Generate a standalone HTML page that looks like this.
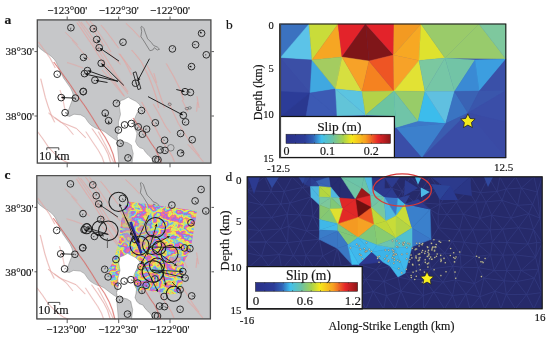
<!DOCTYPE html>
<html><head><meta charset="utf-8"><title>figure</title>
<style>html,body{margin:0;padding:0;background:#fff;overflow:hidden}svg{display:block}
text{font-family:"Liberation Serif","Times New Roman",serif;fill:#161616;stroke:#161616;stroke-width:0.18px}</style></head><body>
<svg width="550" height="337" viewBox="0 0 550 337">
<defs>
<linearGradient id="jet" x1="0" x2="1" y1="0" y2="0"><stop offset="0" stop-color="#2a3088"/><stop offset="0.18" stop-color="#2c3c98"/><stop offset="0.26" stop-color="#3062b6"/><stop offset="0.34" stop-color="#40c0ee"/><stop offset="0.45" stop-color="#6cc2a4"/><stop offset="0.55" stop-color="#a8d24c"/><stop offset="0.63" stop-color="#f6e81a"/><stop offset="0.76" stop-color="#f7a021"/><stop offset="0.88" stop-color="#e5262a"/><stop offset="1" stop-color="#8c1618"/></linearGradient>
<clipPath id="clipA"><rect x="37.5" y="20" width="173.5" height="143.2"/></clipPath>
<clipPath id="clipD"><rect x="247.2" y="176.8" width="295" height="132"/></clipPath>
<filter id="ifg" x="0" y="0" width="1" height="1" color-interpolation-filters="sRGB">
<feTurbulence type="fractalNoise" baseFrequency="0.075 0.09" numOctaves="4" seed="8" result="n"/>
<feColorMatrix in="n" type="matrix" values="1 0 0 0 0  1 0 0 0 0  1 0 0 0 0  0 0 0 0 1"/>
<feComponentTransfer>
<feFuncR type="table" tableValues="1.00 0.97 0.93 0.55 0.35 0.74 1.00 0.97 0.93 0.55 0.35 0.74 1.00 0.97 0.93 0.55 0.35 0.74 1.00 0.97 0.93 0.55 0.35 0.74 1.00"/>
<feFuncG type="table" tableValues="0.93 0.60 0.30 0.42 0.78 0.92 0.93 0.60 0.30 0.42 0.78 0.92 0.93 0.60 0.30 0.42 0.78 0.92 0.93 0.60 0.30 0.42 0.78 0.92 0.93"/>
<feFuncB type="table" tableValues="0.22 0.28 0.72 0.90 0.96 0.42 0.22 0.28 0.72 0.90 0.96 0.42 0.22 0.28 0.72 0.90 0.96 0.42 0.22 0.28 0.72 0.90 0.96 0.42 0.22"/>
</feComponentTransfer>
</filter>
<clipPath id="clipIfg"><polygon points="128,201.5 197,210.8 190.5,250 184,262 182.5,283 181,289.5 176.8,293.8 170,294.5 163,292.5 152,291.2 144,289.5 138,291 125,290 111.4,285 108,270 113,262 116.5,250 119.3,240 121,222 124,208"/></clipPath>
</defs>

<g clip-path="url(#clipA)"><rect x="37.5" y="20.0" width="173.5" height="143.2" fill="#c6c7c9"/>
<polygon points="37.5,45.2 37.6,45.2 39.6,48.2 42.6,50.5 45.0,52.3 48.1,54.0 51.3,56.4 54.0,59.0 55.8,61.5 57.0,64.0 59.3,68.8 61.1,73.0 63.5,78.0 65.3,80.5 67.9,84.3 70.5,88.0 72.4,92.0 73.5,96.0 73.2,98.5 72.0,100.8 69.3,108.0 66.5,115.6 69.7,116.4 74.0,114.2 80.8,114.9 84.9,117.3 88.5,122.6 90.8,125.0 94.4,127.4 98.0,129.1 100.9,129.7 105.1,132.1 109.8,135.7 114.6,139.2 118.1,141.3 117.1,142.0 117.7,148.8 118.3,155.9 118.9,163.2 37.5,163.2" fill="#fff" stroke="#888" stroke-width="0.5"/>
<polygon points="120.4,100.7 124.0,99.5 128.2,97.1 131.1,98.9 135.9,101.3 139.4,104.3 141.2,107.8 137.6,112.0 135.5,116.5 134.0,120.5 133.5,124.5 135.0,129.0 137.0,133.0 136.5,137.0 135.5,141.6 137.3,145.2 139.7,147.6 143.3,148.8 145.6,152.3 148.0,154.7 150.4,157.1 152.2,159.4 152.8,163.2 132.0,163.2 132.6,158.3 133.2,153.5 132.0,148.8 131.4,145.2 127.8,142.8 123.1,141.6 118.3,141.0 117.5,140.0 117.5,138.5 117.0,136.5 118.2,133.0 118.8,129.5 118.5,126.0 118.4,122.0 119.5,118.0 120.5,114.4 119.3,106.6" fill="#fff" stroke="#888" stroke-width="0.5"/>
<polygon points="141.7,26.2 143.9,28.4 145.4,32.9 147.6,38.8 151.3,42.5 153.6,45.5 157.3,47.0 159.5,49.2 157.3,50.0 154.3,47.7 152.8,50.0 149.9,50.7 147.6,47.0 143.9,41.0 140.9,36.6 141.7,31.4 140.9,26.9" fill="none" stroke="#666" stroke-width="0.7"/>
<polyline points="38.5,42.0 45.0,51.0 50.0,58.0 55.3,68.0" fill="none" stroke="#e4a4a2" stroke-opacity="0.18" stroke-width="1.7" stroke-linejoin="round"/>
<polyline points="38.5,42.0 45.0,51.0 50.0,58.0 55.3,68.0" fill="none" stroke="#e4a4a2" stroke-opacity="0.85" stroke-width="0.8" stroke-linejoin="round"/>
<polyline points="40.7,78.7 43.0,88.0 45.3,97.4 48.0,106.0 51.6,116.1 54.7,122.3" fill="none" stroke="#e4a4a2" stroke-opacity="0.18" stroke-width="1.7" stroke-linejoin="round"/>
<polyline points="40.7,78.7 43.0,88.0 45.3,97.4 48.0,106.0 51.6,116.1 54.7,122.3" fill="none" stroke="#e4a4a2" stroke-opacity="0.85" stroke-width="0.8" stroke-linejoin="round"/>
<polyline points="48.5,113.0 55.0,118.0 60.9,122.3 68.0,125.0 76.5,128.5 85.8,137.9" fill="none" stroke="#e4a4a2" stroke-opacity="0.18" stroke-width="1.7" stroke-linejoin="round"/>
<polyline points="48.5,113.0 55.0,118.0 60.9,122.3 68.0,125.0 76.5,128.5 85.8,137.9" fill="none" stroke="#e4a4a2" stroke-opacity="0.85" stroke-width="0.8" stroke-linejoin="round"/>
<polyline points="54.7,117.6 61.0,122.0 67.1,127.0 73.4,134.7" fill="none" stroke="#e4a4a2" stroke-opacity="0.18" stroke-width="1.6" stroke-linejoin="round"/>
<polyline points="54.7,117.6 61.0,122.0 67.1,127.0 73.4,134.7" fill="none" stroke="#e4a4a2" stroke-opacity="0.85" stroke-width="0.7" stroke-linejoin="round"/>
<polyline points="37.5,131.6 43.0,139.0 48.5,147.2 53.0,152.0 57.8,156.5 64.0,161.0 70.0,163.5" fill="none" stroke="#e4a4a2" stroke-opacity="0.18" stroke-width="1.7" stroke-linejoin="round"/>
<polyline points="37.5,131.6 43.0,139.0 48.5,147.2 53.0,152.0 57.8,156.5 64.0,161.0 70.0,163.5" fill="none" stroke="#e4a4a2" stroke-opacity="0.85" stroke-width="0.8" stroke-linejoin="round"/>
<polyline points="92.0,128.5 98.0,137.0 104.5,147.2 108.0,154.0 110.7,162.8" fill="none" stroke="#e4a4a2" stroke-opacity="0.18" stroke-width="1.7" stroke-linejoin="round"/>
<polyline points="92.0,128.5 98.0,137.0 104.5,147.2 108.0,154.0 110.7,162.8" fill="none" stroke="#e4a4a2" stroke-opacity="0.85" stroke-width="0.8" stroke-linejoin="round"/>
<polyline points="85.8,131.6 92.0,141.0 98.3,150.3 102.0,157.0 104.5,164.0" fill="none" stroke="#e4a4a2" stroke-opacity="0.18" stroke-width="1.6" stroke-linejoin="round"/>
<polyline points="85.8,131.6 92.0,141.0 98.3,150.3 102.0,157.0 104.5,164.0" fill="none" stroke="#e4a4a2" stroke-opacity="0.85" stroke-width="0.7" stroke-linejoin="round"/>
<polyline points="98.3,131.6 106.0,146.0 113.9,162.8" fill="none" stroke="#e4a4a2" stroke-opacity="0.18" stroke-width="1.6" stroke-linejoin="round"/>
<polyline points="98.3,131.6 106.0,146.0 113.9,162.8" fill="none" stroke="#e4a4a2" stroke-opacity="0.85" stroke-width="0.7" stroke-linejoin="round"/>
<polyline points="60.0,90.0 63.0,100.0 65.0,110.0" fill="none" stroke="#e4a4a2" stroke-opacity="0.18" stroke-width="1.5" stroke-linejoin="round"/>
<polyline points="60.0,90.0 63.0,100.0 65.0,110.0" fill="none" stroke="#e4a4a2" stroke-opacity="0.85" stroke-width="0.6" stroke-linejoin="round"/>
<polyline points="53.8,62.0 60.0,70.5 64.0,76.0 70.2,84.7 76.0,93.5 80.5,100.0 84.9,106.0 92.0,117.0 99.1,128.5 105.0,137.0 109.8,146.0 113.0,154.0 115.5,163.5" fill="none" stroke="#d8625e" stroke-opacity="0.18" stroke-width="1.8" stroke-linejoin="round"/>
<polyline points="53.8,62.0 60.0,70.5 64.0,76.0 70.2,84.7 76.0,93.5 80.5,100.0 84.9,106.0 92.0,117.0 99.1,128.5 105.0,137.0 109.8,146.0 113.0,154.0 115.5,163.5" fill="none" stroke="#d8625e" stroke-opacity="0.85" stroke-width="0.9" stroke-linejoin="round"/>
<polyline points="76.9,22.5 82.0,30.0 88.0,39.0 93.0,46.0 97.4,53.6 102.0,61.0 106.3,69.7 112.0,78.0 118.0,87.0 124.0,96.0" fill="none" stroke="#e4a4a2" stroke-opacity="0.18" stroke-width="1.8" stroke-linejoin="round"/>
<polyline points="76.9,22.5 82.0,30.0 88.0,39.0 93.0,46.0 97.4,53.6 102.0,61.0 106.3,69.7 112.0,78.0 118.0,87.0 124.0,96.0" fill="none" stroke="#e4a4a2" stroke-opacity="0.85" stroke-width="0.9" stroke-linejoin="round"/>
<polyline points="81.0,22.0 88.0,31.0 95.0,41.0 101.0,50.0 106.0,58.0 111.0,66.0 116.0,74.0 122.0,83.0 128.0,92.0" fill="none" stroke="#e4a4a2" stroke-opacity="0.18" stroke-width="1.7" stroke-linejoin="round"/>
<polyline points="81.0,22.0 88.0,31.0 95.0,41.0 101.0,50.0 106.0,58.0 111.0,66.0 116.0,74.0 122.0,83.0 128.0,92.0" fill="none" stroke="#e4a4a2" stroke-opacity="0.85" stroke-width="0.8" stroke-linejoin="round"/>
<polyline points="86.0,21.0 93.0,30.0 99.0,38.0 104.0,46.0" fill="none" stroke="#e4a4a2" stroke-opacity="0.18" stroke-width="1.7" stroke-linejoin="round"/>
<polyline points="86.0,21.0 93.0,30.0 99.0,38.0 104.0,46.0" fill="none" stroke="#e4a4a2" stroke-opacity="0.85" stroke-width="0.8" stroke-linejoin="round"/>
<polyline points="65.3,32.3 71.0,38.0 77.8,44.7" fill="none" stroke="#e4a4a2" stroke-opacity="0.18" stroke-width="1.5" stroke-linejoin="round"/>
<polyline points="65.3,32.3 71.0,38.0 77.8,44.7" fill="none" stroke="#e4a4a2" stroke-opacity="0.85" stroke-width="0.6" stroke-linejoin="round"/>
<polyline points="78.5,21.0 84.0,29.0 90.0,38.0 95.0,45.0 99.5,52.0 104.0,60.0 108.5,68.0" fill="none" stroke="#e4a4a2" stroke-opacity="0.18" stroke-width="1.5" stroke-linejoin="round"/>
<polyline points="78.5,21.0 84.0,29.0 90.0,38.0 95.0,45.0 99.5,52.0 104.0,60.0 108.5,68.0" fill="none" stroke="#e4a4a2" stroke-opacity="0.85" stroke-width="0.6" stroke-linejoin="round"/>
<polyline points="90.0,21.0 96.0,29.0 101.0,36.0 107.0,45.0 111.0,52.0" fill="none" stroke="#e4a4a2" stroke-opacity="0.18" stroke-width="1.5" stroke-linejoin="round"/>
<polyline points="90.0,21.0 96.0,29.0 101.0,36.0 107.0,45.0 111.0,52.0" fill="none" stroke="#e4a4a2" stroke-opacity="0.85" stroke-width="0.6" stroke-linejoin="round"/>
<polyline points="72.0,40.0 78.0,47.0 84.0,54.0 90.0,60.0" fill="none" stroke="#e4a4a2" stroke-opacity="0.18" stroke-width="1.5" stroke-linejoin="round"/>
<polyline points="72.0,40.0 78.0,47.0 84.0,54.0 90.0,60.0" fill="none" stroke="#e4a4a2" stroke-opacity="0.85" stroke-width="0.6" stroke-linejoin="round"/>
<polyline points="67.0,62.5 75.0,65.0 83.0,68.0" fill="none" stroke="#e4a4a2" stroke-opacity="0.18" stroke-width="1.5" stroke-linejoin="round"/>
<polyline points="67.0,62.5 75.0,65.0 83.0,68.0" fill="none" stroke="#e4a4a2" stroke-opacity="0.85" stroke-width="0.6" stroke-linejoin="round"/>
<polyline points="101.0,25.1 106.0,31.0 112.0,39.0 118.8,48.3" fill="none" stroke="#e4a4a2" stroke-opacity="0.18" stroke-width="1.7" stroke-linejoin="round"/>
<polyline points="101.0,25.1 106.0,31.0 112.0,39.0 118.8,48.3" fill="none" stroke="#e4a4a2" stroke-opacity="0.85" stroke-width="0.8" stroke-linejoin="round"/>
<polyline points="106.3,50.0 113.0,57.0 120.6,64.3" fill="none" stroke="#e4a4a2" stroke-opacity="0.18" stroke-width="1.7" stroke-linejoin="round"/>
<polyline points="106.3,50.0 113.0,57.0 120.6,64.3" fill="none" stroke="#e4a4a2" stroke-opacity="0.85" stroke-width="0.8" stroke-linejoin="round"/>
<polyline points="118.8,53.6 125.0,61.0 131.3,69.7" fill="none" stroke="#e4a4a2" stroke-opacity="0.18" stroke-width="1.7" stroke-linejoin="round"/>
<polyline points="118.8,53.6 125.0,61.0 131.3,69.7" fill="none" stroke="#e4a4a2" stroke-opacity="0.85" stroke-width="0.8" stroke-linejoin="round"/>
<polyline points="125.9,23.3 133.0,30.0 140.0,37.6" fill="none" stroke="#e4a4a2" stroke-opacity="0.18" stroke-width="1.7" stroke-linejoin="round"/>
<polyline points="125.9,23.3 133.0,30.0 140.0,37.6" fill="none" stroke="#e4a4a2" stroke-opacity="0.85" stroke-width="0.8" stroke-linejoin="round"/>
<polyline points="120.0,53.9 126.0,64.0 131.6,75.1" fill="none" stroke="#e4a4a2" stroke-opacity="0.18" stroke-width="1.7" stroke-linejoin="round"/>
<polyline points="120.0,53.9 126.0,64.0 131.6,75.1" fill="none" stroke="#e4a4a2" stroke-opacity="0.85" stroke-width="0.8" stroke-linejoin="round"/>
<polyline points="131.6,50.0 136.0,55.0 141.2,61.6 145.0,69.0 148.9,77.0 152.0,85.0 154.7,92.4 157.0,100.0 158.6,107.9" fill="none" stroke="#e4a4a2" stroke-opacity="0.18" stroke-width="1.8" stroke-linejoin="round"/>
<polyline points="131.6,50.0 136.0,55.0 141.2,61.6 145.0,69.0 148.9,77.0 152.0,85.0 154.7,92.4 157.0,100.0 158.6,107.9" fill="none" stroke="#e4a4a2" stroke-opacity="0.85" stroke-width="0.9" stroke-linejoin="round"/>
<polyline points="147.0,65.4 152.0,75.0 156.6,84.7 160.0,95.0 164.4,107.9" fill="none" stroke="#e4a4a2" stroke-opacity="0.18" stroke-width="1.7" stroke-linejoin="round"/>
<polyline points="147.0,65.4 152.0,75.0 156.6,84.7 160.0,95.0 164.4,107.9" fill="none" stroke="#e4a4a2" stroke-opacity="0.85" stroke-width="0.8" stroke-linejoin="round"/>
<polyline points="166.3,63.5 170.0,70.0 174.0,77.0 179.8,88.6 183.6,100.1" fill="none" stroke="#e4a4a2" stroke-opacity="0.18" stroke-width="1.7" stroke-linejoin="round"/>
<polyline points="166.3,63.5 170.0,70.0 174.0,77.0 179.8,88.6 183.6,100.1" fill="none" stroke="#e4a4a2" stroke-opacity="0.85" stroke-width="0.8" stroke-linejoin="round"/>
<polyline points="197.0,96.3 198.0,102.0 199.0,107.9" fill="none" stroke="#e4a4a2" stroke-opacity="0.18" stroke-width="1.6" stroke-linejoin="round"/>
<polyline points="197.0,96.3 198.0,102.0 199.0,107.9" fill="none" stroke="#e4a4a2" stroke-opacity="0.85" stroke-width="0.7" stroke-linejoin="round"/>
<polyline points="153.8,73.1 156.6,82.8" fill="none" stroke="#e4a4a2" stroke-opacity="0.18" stroke-width="1.6" stroke-linejoin="round"/>
<polyline points="153.8,73.1 156.6,82.8" fill="none" stroke="#e4a4a2" stroke-opacity="0.85" stroke-width="0.7" stroke-linejoin="round"/>
<polyline points="141.6,101.9 146.0,110.0 151.2,119.3 155.0,127.0 158.9,134.7 163.0,142.0 168.6,150.2 172.0,156.0 174.4,161.7" fill="none" stroke="#e4a4a2" stroke-opacity="0.18" stroke-width="1.8" stroke-linejoin="round"/>
<polyline points="141.6,101.9 146.0,110.0 151.2,119.3 155.0,127.0 158.9,134.7 163.0,142.0 168.6,150.2 172.0,156.0 174.4,161.7" fill="none" stroke="#e4a4a2" stroke-opacity="0.85" stroke-width="0.9" stroke-linejoin="round"/>
<polyline points="133.0,118.0 138.0,125.0 143.0,131.0 147.0,136.5 151.0,143.0 155.3,149.0 158.5,156.0 161.5,163.5" fill="none" stroke="#d8625e" stroke-opacity="0.18" stroke-width="1.7" stroke-linejoin="round"/>
<polyline points="133.0,118.0 138.0,125.0 143.0,131.0 147.0,136.5 151.0,143.0 155.3,149.0 158.5,156.0 161.5,163.5" fill="none" stroke="#d8625e" stroke-opacity="0.85" stroke-width="0.8" stroke-linejoin="round"/>
<polyline points="153.2,103.9 158.0,112.0 162.8,121.2 166.0,127.0 170.5,132.8" fill="none" stroke="#e4a4a2" stroke-opacity="0.18" stroke-width="1.7" stroke-linejoin="round"/>
<polyline points="153.2,103.9 158.0,112.0 162.8,121.2 166.0,127.0 170.5,132.8" fill="none" stroke="#e4a4a2" stroke-opacity="0.85" stroke-width="0.8" stroke-linejoin="round"/>
<polyline points="168.6,101.9 173.0,112.0 178.2,123.2 183.0,131.0 187.9,138.6 193.0,147.0 199.5,156.0" fill="none" stroke="#e4a4a2" stroke-opacity="0.18" stroke-width="1.7" stroke-linejoin="round"/>
<polyline points="168.6,101.9 173.0,112.0 178.2,123.2 183.0,131.0 187.9,138.6 193.0,147.0 199.5,156.0" fill="none" stroke="#e4a4a2" stroke-opacity="0.85" stroke-width="0.8" stroke-linejoin="round"/>
<polyline points="187.9,144.4 195.0,152.0 203.3,161.7" fill="none" stroke="#e4a4a2" stroke-opacity="0.18" stroke-width="1.7" stroke-linejoin="round"/>
<polyline points="187.9,144.4 195.0,152.0 203.3,161.7" fill="none" stroke="#e4a4a2" stroke-opacity="0.85" stroke-width="0.8" stroke-linejoin="round"/>
<polyline points="197.5,101.9 196.6,111.6" fill="none" stroke="#e4a4a2" stroke-opacity="0.18" stroke-width="1.6" stroke-linejoin="round"/>
<polyline points="197.5,101.9 196.6,111.6" fill="none" stroke="#e4a4a2" stroke-opacity="0.85" stroke-width="0.7" stroke-linejoin="round"/>
<polyline points="182.1,100.0 185.0,106.0 187.9,111.6" fill="none" stroke="#e4a4a2" stroke-opacity="0.18" stroke-width="1.6" stroke-linejoin="round"/>
<polyline points="182.1,100.0 185.0,106.0 187.9,111.6" fill="none" stroke="#e4a4a2" stroke-opacity="0.85" stroke-width="0.7" stroke-linejoin="round"/>
<polyline points="108.0,66.0 116.0,76.0 122.0,86.0 128.0,94.0" fill="none" stroke="#e4a4a2" stroke-opacity="0.18" stroke-width="1.7" stroke-linejoin="round"/>
<polyline points="108.0,66.0 116.0,76.0 122.0,86.0 128.0,94.0" fill="none" stroke="#e4a4a2" stroke-opacity="0.85" stroke-width="0.8" stroke-linejoin="round"/>
<polyline points="102.0,70.0 110.0,79.0 118.0,89.0 124.6,96.6" fill="none" stroke="#e4a4a2" stroke-opacity="0.18" stroke-width="1.6" stroke-linejoin="round"/>
<polyline points="102.0,70.0 110.0,79.0 118.0,89.0 124.6,96.6" fill="none" stroke="#e4a4a2" stroke-opacity="0.85" stroke-width="0.7" stroke-linejoin="round"/><circle cx="70.9" cy="27.7" r="3.35" fill="none" stroke="#2c2c2c" stroke-width="1.0"/>
<circle cx="93.3" cy="28.7" r="3.35" fill="none" stroke="#2c2c2c" stroke-width="1.0"/>
<circle cx="96.7" cy="39.5" r="3.35" fill="none" stroke="#2c2c2c" stroke-width="1.0"/>
<circle cx="99.2" cy="47.7" r="3.35" fill="none" stroke="#2c2c2c" stroke-width="1.0"/>
<circle cx="123" cy="42.2" r="3.35" fill="none" stroke="#2c2c2c" stroke-width="1.0"/>
<circle cx="101.2" cy="63.3" r="3.35" fill="none" stroke="#2c2c2c" stroke-width="1.0"/>
<circle cx="83.5" cy="57.4" r="3.35" fill="none" stroke="#2c2c2c" stroke-width="1.0"/>
<circle cx="172.4" cy="48.9" r="3.35" fill="none" stroke="#2c2c2c" stroke-width="1.0"/>
<circle cx="201.6" cy="33.3" r="3.35" fill="none" stroke="#2c2c2c" stroke-width="1.0"/>
<circle cx="195.6" cy="44.7" r="3.35" fill="none" stroke="#2c2c2c" stroke-width="1.0"/>
<circle cx="206.3" cy="54.8" r="3.35" fill="none" stroke="#2c2c2c" stroke-width="1.0"/>
<circle cx="191.5" cy="66.6" r="3.35" fill="none" stroke="#2c2c2c" stroke-width="1.0"/>
<circle cx="57.2" cy="74.2" r="3.35" fill="none" stroke="#2c2c2c" stroke-width="1.0"/>
<circle cx="61.2" cy="97.6" r="3.35" fill="none" stroke="#2c2c2c" stroke-width="1.0"/>
<circle cx="75.4" cy="98.1" r="3.35" fill="none" stroke="#2c2c2c" stroke-width="1.0"/>
<circle cx="83.2" cy="91.7" r="3.35" fill="none" stroke="#2c2c2c" stroke-width="1.0"/>
<circle cx="87.4" cy="70.6" r="3.35" fill="none" stroke="#2c2c2c" stroke-width="1.0"/>
<circle cx="84.5" cy="73.6" r="3.35" fill="none" stroke="#2c2c2c" stroke-width="1.0"/>
<circle cx="94.9" cy="80.2" r="3.35" fill="none" stroke="#2c2c2c" stroke-width="1.0"/>
<circle cx="83.3" cy="91.4" r="3.35" fill="none" stroke="#2c2c2c" stroke-width="1.0"/>
<circle cx="116.4" cy="103.3" r="3.35" fill="none" stroke="#2c2c2c" stroke-width="1.0"/>
<circle cx="135.5" cy="83.2" r="3.35" fill="none" stroke="#2c2c2c" stroke-width="1.0"/>
<circle cx="185" cy="91.7" r="3.35" fill="none" stroke="#2c2c2c" stroke-width="1.0"/>
<circle cx="190.4" cy="92.4" r="3.35" fill="none" stroke="#2c2c2c" stroke-width="1.0"/>
<circle cx="65.1" cy="112.7" r="3.35" fill="none" stroke="#2c2c2c" stroke-width="1.0"/>
<circle cx="105.2" cy="113.1" r="3.35" fill="none" stroke="#2c2c2c" stroke-width="1.0"/>
<circle cx="108.6" cy="120.7" r="3.35" fill="none" stroke="#2c2c2c" stroke-width="1.0"/>
<circle cx="124.6" cy="124.9" r="3.35" fill="none" stroke="#2c2c2c" stroke-width="1.0"/>
<circle cx="131.4" cy="123.5" r="3.35" fill="none" stroke="#2c2c2c" stroke-width="1.0"/>
<circle cx="138.2" cy="126.9" r="3.35" fill="none" stroke="#2c2c2c" stroke-width="1.0"/>
<circle cx="146.6" cy="129.1" r="3.35" fill="none" stroke="#2c2c2c" stroke-width="1.0"/>
<circle cx="142.4" cy="134.2" r="3.35" fill="none" stroke="#2c2c2c" stroke-width="1.0"/>
<circle cx="118.4" cy="130" r="3.35" fill="none" stroke="#2c2c2c" stroke-width="1.0"/>
<circle cx="120.1" cy="143.2" r="3.35" fill="none" stroke="#2c2c2c" stroke-width="1.0"/>
<circle cx="128" cy="157.9" r="3.35" fill="none" stroke="#2c2c2c" stroke-width="1.0"/>
<circle cx="141.5" cy="110.5" r="3.35" fill="none" stroke="#2c2c2c" stroke-width="1.0"/>
<circle cx="183.3" cy="115.3" r="3.35" fill="none" stroke="#2c2c2c" stroke-width="1.0"/>
<circle cx="185.6" cy="121.9" r="3.35" fill="none" stroke="#2c2c2c" stroke-width="1.0"/>
<circle cx="155.3" cy="122.8" r="3.35" fill="none" stroke="#2c2c2c" stroke-width="1.0"/>
<circle cx="180.6" cy="133.5" r="3.35" fill="none" stroke="#2c2c2c" stroke-width="1.0"/>
<circle cx="164.6" cy="140.3" r="3.35" fill="none" stroke="#2c2c2c" stroke-width="1.0"/>
<circle cx="192.2" cy="139.7" r="3.35" fill="none" stroke="#2c2c2c" stroke-width="1.0"/>
<circle cx="160.1" cy="149.9" r="3.35" fill="none" stroke="#2c2c2c" stroke-width="1.0"/>
<circle cx="165" cy="150.4" r="3.35" fill="none" stroke="#2c2c2c" stroke-width="1.0"/>
<circle cx="180.6" cy="153.1" r="3.35" fill="none" stroke="#2c2c2c" stroke-width="1.0"/>
<circle cx="155.7" cy="159.3" r="3.35" fill="none" stroke="#2c2c2c" stroke-width="1.0"/>
<circle cx="158" cy="159.8" r="3.35" fill="none" stroke="#2c2c2c" stroke-width="1.0"/>
<polygon points="133.1,72.8 135.9,71.8 140.9,88.6 138.1,89.6" fill="none" stroke="#222" stroke-width="0.9"/>
<line x1="119.0" y1="61.1" x2="102.2" y2="49.7" stroke="#111" stroke-width="0.9"/><polygon points="99.6,47.9 103.1,48.5 101.4,50.9" fill="#111"/>
<line x1="123.8" y1="85.4" x2="103.9" y2="65.8" stroke="#111" stroke-width="0.9"/><polygon points="101.6,63.6 104.9,64.8 102.9,66.9" fill="#111"/>
<line x1="118.0" y1="81.3" x2="90.8" y2="71.7" stroke="#111" stroke-width="0.9"/><polygon points="87.8,70.6 91.3,70.3 90.3,73.0" fill="#111"/>
<line x1="118.0" y1="81.3" x2="88.1" y2="74.7" stroke="#111" stroke-width="0.9"/><polygon points="85.0,74.0 88.4,73.3 87.8,76.1" fill="#111"/>
<line x1="107.5" y1="82.5" x2="98.4" y2="80.9" stroke="#111" stroke-width="0.9"/><polygon points="95.3,80.3 98.7,79.5 98.2,82.3" fill="#111"/>
<line x1="75.4" y1="98.1" x2="64.8" y2="97.7" stroke="#111" stroke-width="0.9"/><polygon points="61.6,97.6 64.9,96.3 64.7,99.2" fill="#111"/>
<line x1="149.5" y1="58.7" x2="139.1" y2="78.2" stroke="#111" stroke-width="0.9"/><polygon points="137.6,81.0 137.8,77.5 140.4,78.9" fill="#111"/>
<line x1="148.0" y1="96.6" x2="180.5" y2="113.8" stroke="#111" stroke-width="0.9"/><polygon points="183.3,115.3 179.8,115.1 181.1,112.5" fill="#111"/>
<line x1="176.3" y1="89.5" x2="181.9" y2="90.9" stroke="#111" stroke-width="0.9"/><polygon points="185.0,91.7 181.5,92.3 182.3,89.5" fill="#111"/>
<line x1="96.7" y1="39.5" x2="97.9" y2="40.7" stroke="#111" stroke-width="0.8"/><polygon points="99.5,42.2 97.2,41.4 98.6,40.0" fill="#111"/>
<line x1="83.5" y1="57.4" x2="84.4" y2="58.0" stroke="#111" stroke-width="0.8"/><polygon points="86.3,59.2 83.9,58.8 85.0,57.2" fill="#111"/>
<line x1="101.2" y1="63.3" x2="102.2" y2="64.7" stroke="#111" stroke-width="0.8"/><polygon points="103.5,66.5 101.4,65.3 103.0,64.1" fill="#111"/>
<line x1="93.3" y1="28.7" x2="93.6" y2="28.7" stroke="#111" stroke-width="0.8"/><polygon points="95.8,29.0 93.5,29.7 93.7,27.8" fill="#111"/>
<line x1="105.2" y1="113.1" x2="105.3" y2="114.8" stroke="#111" stroke-width="0.8"/><polygon points="105.4,117.0 104.3,114.9 106.3,114.8" fill="#111"/>
<line x1="108.6" y1="120.7" x2="108.8" y2="122.0" stroke="#111" stroke-width="0.8"/><polygon points="109.0,124.2 107.8,122.1 109.7,121.9" fill="#111"/>
<line x1="180.6" y1="153.1" x2="181.6" y2="152.7" stroke="#111" stroke-width="0.8"/><polygon points="183.6,151.8 182.0,153.6 181.2,151.8" fill="#111"/>
<line x1="61.2" y1="97.6" x2="62.0" y2="97.6" stroke="#111" stroke-width="0.8"/><polygon points="64.2,97.6 62.0,98.6 62.0,96.6" fill="#111"/>
<line x1="191.5" y1="66.6" x2="191.2" y2="66.6" stroke="#111" stroke-width="0.8"/><polygon points="189.0,66.8 191.1,65.6 191.3,67.6" fill="#111"/>
<line x1="201.6" y1="33.3" x2="201.2" y2="33.0" stroke="#111" stroke-width="0.8"/><polygon points="199.6,31.5 201.9,32.2 200.6,33.7" fill="#111"/>
<line x1="70.9" y1="27.7" x2="70.5" y2="29.7" stroke="#333" stroke-width="0.8"/>
<line x1="99.2" y1="47.7" x2="97.3" y2="49.0" stroke="#333" stroke-width="0.8"/>
<line x1="123.0" y1="42.2" x2="121.4" y2="43.9" stroke="#333" stroke-width="0.8"/>
<line x1="172.4" y1="48.9" x2="173.5" y2="47.5" stroke="#333" stroke-width="0.8"/>
<line x1="195.6" y1="44.7" x2="193.6" y2="44.5" stroke="#333" stroke-width="0.8"/>
<line x1="206.3" y1="54.8" x2="205.0" y2="54.9" stroke="#333" stroke-width="0.8"/>
<line x1="57.2" y1="74.2" x2="57.9" y2="75.5" stroke="#333" stroke-width="0.8"/>
<line x1="75.4" y1="98.1" x2="75.7" y2="100.0" stroke="#333" stroke-width="0.8"/>
<line x1="83.2" y1="91.7" x2="84.0" y2="90.5" stroke="#333" stroke-width="0.8"/>
<line x1="87.4" y1="70.6" x2="89.6" y2="71.1" stroke="#333" stroke-width="0.8"/>
<line x1="84.5" y1="73.6" x2="83.4" y2="74.5" stroke="#333" stroke-width="0.8"/>
<line x1="94.9" y1="80.2" x2="93.8" y2="80.9" stroke="#333" stroke-width="0.8"/>
<line x1="83.3" y1="91.4" x2="83.1" y2="92.7" stroke="#333" stroke-width="0.8"/>
<line x1="116.4" y1="103.3" x2="117.5" y2="101.4" stroke="#333" stroke-width="0.8"/>
<line x1="135.5" y1="83.2" x2="137.0" y2="83.1" stroke="#333" stroke-width="0.8"/>
<line x1="190.4" y1="92.4" x2="188.2" y2="91.8" stroke="#333" stroke-width="0.8"/>
<line x1="65.1" y1="112.7" x2="67.4" y2="113.3" stroke="#333" stroke-width="0.8"/>
<line x1="124.6" y1="124.9" x2="124.9" y2="126.9" stroke="#333" stroke-width="0.8"/>
<line x1="131.4" y1="123.5" x2="133.7" y2="123.2" stroke="#333" stroke-width="0.8"/>
<line x1="138.2" y1="126.9" x2="137.0" y2="129.0" stroke="#333" stroke-width="0.8"/>
<line x1="146.6" y1="129.1" x2="145.1" y2="129.3" stroke="#333" stroke-width="0.8"/>
<line x1="142.4" y1="134.2" x2="143.6" y2="135.0" stroke="#333" stroke-width="0.8"/>
<line x1="118.4" y1="130.0" x2="119.6" y2="129.5" stroke="#333" stroke-width="0.8"/>
<line x1="120.1" y1="143.2" x2="121.9" y2="143.8" stroke="#333" stroke-width="0.8"/>
<line x1="128.0" y1="157.9" x2="129.0" y2="156.2" stroke="#333" stroke-width="0.8"/>
<line x1="141.5" y1="110.5" x2="142.9" y2="111.2" stroke="#333" stroke-width="0.8"/>
<line x1="185.6" y1="121.9" x2="184.0" y2="122.7" stroke="#333" stroke-width="0.8"/>
<line x1="155.3" y1="122.8" x2="156.9" y2="123.5" stroke="#333" stroke-width="0.8"/>
<line x1="180.6" y1="133.5" x2="179.9" y2="134.6" stroke="#333" stroke-width="0.8"/>
<line x1="164.6" y1="140.3" x2="163.4" y2="140.0" stroke="#333" stroke-width="0.8"/>
<line x1="192.2" y1="139.7" x2="190.6" y2="141.3" stroke="#333" stroke-width="0.8"/>
<line x1="160.1" y1="149.9" x2="161.3" y2="148.1" stroke="#333" stroke-width="0.8"/>
<line x1="165.0" y1="150.4" x2="166.5" y2="151.5" stroke="#333" stroke-width="0.8"/>
<line x1="155.7" y1="159.3" x2="156.4" y2="158.2" stroke="#333" stroke-width="0.8"/>
<line x1="158.0" y1="159.8" x2="160.3" y2="159.3" stroke="#333" stroke-width="0.8"/>
<ellipse cx="169.7" cy="104.3" rx="1.6" ry="1.2" fill="none" stroke="#555" stroke-width="0.6"/>
<ellipse cx="186.9" cy="108.6" rx="1.7" ry="1.2" fill="none" stroke="#555" stroke-width="0.6"/>
<ellipse cx="189.7" cy="107.9" rx="1.7" ry="1.2" fill="none" stroke="#555" stroke-width="0.6"/>
<ellipse cx="170.8" cy="147.8" rx="3.3" ry="3.3" fill="none" stroke="#555" stroke-width="0.6"/></g>
<rect x="37.3" y="19.9" width="173.6" height="143.2" fill="none" stroke="#4a4a4a" stroke-width="1.3"/>
<line x1="67.2" y1="16.5" x2="67.2" y2="19.5" stroke="#333" stroke-width="0.8"/>
<line x1="67.2" y1="163.3" x2="67.2" y2="167.3" stroke="#333" stroke-width="0.8"/>
<line x1="118.7" y1="16.5" x2="118.7" y2="19.5" stroke="#333" stroke-width="0.8"/>
<line x1="118.7" y1="163.3" x2="118.7" y2="167.3" stroke="#333" stroke-width="0.8"/>
<line x1="170.0" y1="16.5" x2="170.0" y2="19.5" stroke="#333" stroke-width="0.8"/>
<line x1="170.0" y1="163.3" x2="170.0" y2="167.3" stroke="#333" stroke-width="0.8"/>
<line x1="34.5" y1="51.6" x2="37" y2="51.6" stroke="#333" stroke-width="0.8"/>
<line x1="211.5" y1="51.6" x2="214" y2="51.6" stroke="#333" stroke-width="0.8"/>
<line x1="34.5" y1="116.0" x2="37" y2="116.0" stroke="#333" stroke-width="0.8"/>
<line x1="211.5" y1="116.0" x2="214" y2="116.0" stroke="#333" stroke-width="0.8"/>
<text x="4.5" y="24.2" font-size="13.5" text-anchor="start" font-weight="bold" >a</text>
<text x="67.2" y="14.2" font-size="11" text-anchor="middle" font-weight="normal" >−123°00'</text>
<text x="118.7" y="14.2" font-size="11" text-anchor="middle" font-weight="normal" >−122°30'</text>
<text x="170.0" y="14.2" font-size="11" text-anchor="middle" font-weight="normal" >−122°00'</text>
<text x="34" y="55.3" font-size="11" text-anchor="end" font-weight="normal" >38°30'</text>
<text x="34" y="119.8" font-size="11" text-anchor="end" font-weight="normal" >38°00'</text>
<path d="M46.8 150.2V147.8H58.8V150.2" fill="none" stroke="#222" stroke-width="0.8"/>
<text x="39.2" y="159.6" font-size="12" text-anchor="start" font-weight="normal" >10 km</text>
<g transform="translate(-0.5,156.2)"><g clip-path="url(#clipA)"><rect x="37.5" y="20.0" width="173.5" height="143.2" fill="#c6c7c9"/>
<polygon points="37.5,45.2 37.6,45.2 39.6,48.2 42.6,50.5 45.0,52.3 48.1,54.0 51.3,56.4 54.0,59.0 55.8,61.5 57.0,64.0 59.3,68.8 61.1,73.0 63.5,78.0 65.3,80.5 67.9,84.3 70.5,88.0 72.4,92.0 73.5,96.0 73.2,98.5 72.0,100.8 69.3,108.0 66.5,115.6 69.7,116.4 74.0,114.2 80.8,114.9 84.9,117.3 88.5,122.6 90.8,125.0 94.4,127.4 98.0,129.1 100.9,129.7 105.1,132.1 109.8,135.7 114.6,139.2 118.1,141.3 117.1,142.0 117.7,148.8 118.3,155.9 118.9,163.2 37.5,163.2" fill="#fff" stroke="#888" stroke-width="0.5"/>
<polygon points="120.4,100.7 124.0,99.5 128.2,97.1 131.1,98.9 135.9,101.3 139.4,104.3 141.2,107.8 137.6,112.0 135.5,116.5 134.0,120.5 133.5,124.5 135.0,129.0 137.0,133.0 136.5,137.0 135.5,141.6 137.3,145.2 139.7,147.6 143.3,148.8 145.6,152.3 148.0,154.7 150.4,157.1 152.2,159.4 152.8,163.2 132.0,163.2 132.6,158.3 133.2,153.5 132.0,148.8 131.4,145.2 127.8,142.8 123.1,141.6 118.3,141.0 117.5,140.0 117.5,138.5 117.0,136.5 118.2,133.0 118.8,129.5 118.5,126.0 118.4,122.0 119.5,118.0 120.5,114.4 119.3,106.6" fill="#fff" stroke="#888" stroke-width="0.5"/>
<polygon points="141.7,26.2 143.9,28.4 145.4,32.9 147.6,38.8 151.3,42.5 153.6,45.5 157.3,47.0 159.5,49.2 157.3,50.0 154.3,47.7 152.8,50.0 149.9,50.7 147.6,47.0 143.9,41.0 140.9,36.6 141.7,31.4 140.9,26.9" fill="none" stroke="#666" stroke-width="0.7"/>
<polyline points="38.5,42.0 45.0,51.0 50.0,58.0 55.3,68.0" fill="none" stroke="#e4a4a2" stroke-opacity="0.18" stroke-width="1.7" stroke-linejoin="round"/>
<polyline points="38.5,42.0 45.0,51.0 50.0,58.0 55.3,68.0" fill="none" stroke="#e4a4a2" stroke-opacity="0.85" stroke-width="0.8" stroke-linejoin="round"/>
<polyline points="40.7,78.7 43.0,88.0 45.3,97.4 48.0,106.0 51.6,116.1 54.7,122.3" fill="none" stroke="#e4a4a2" stroke-opacity="0.18" stroke-width="1.7" stroke-linejoin="round"/>
<polyline points="40.7,78.7 43.0,88.0 45.3,97.4 48.0,106.0 51.6,116.1 54.7,122.3" fill="none" stroke="#e4a4a2" stroke-opacity="0.85" stroke-width="0.8" stroke-linejoin="round"/>
<polyline points="48.5,113.0 55.0,118.0 60.9,122.3 68.0,125.0 76.5,128.5 85.8,137.9" fill="none" stroke="#e4a4a2" stroke-opacity="0.18" stroke-width="1.7" stroke-linejoin="round"/>
<polyline points="48.5,113.0 55.0,118.0 60.9,122.3 68.0,125.0 76.5,128.5 85.8,137.9" fill="none" stroke="#e4a4a2" stroke-opacity="0.85" stroke-width="0.8" stroke-linejoin="round"/>
<polyline points="54.7,117.6 61.0,122.0 67.1,127.0 73.4,134.7" fill="none" stroke="#e4a4a2" stroke-opacity="0.18" stroke-width="1.6" stroke-linejoin="round"/>
<polyline points="54.7,117.6 61.0,122.0 67.1,127.0 73.4,134.7" fill="none" stroke="#e4a4a2" stroke-opacity="0.85" stroke-width="0.7" stroke-linejoin="round"/>
<polyline points="37.5,131.6 43.0,139.0 48.5,147.2 53.0,152.0 57.8,156.5 64.0,161.0 70.0,163.5" fill="none" stroke="#e4a4a2" stroke-opacity="0.18" stroke-width="1.7" stroke-linejoin="round"/>
<polyline points="37.5,131.6 43.0,139.0 48.5,147.2 53.0,152.0 57.8,156.5 64.0,161.0 70.0,163.5" fill="none" stroke="#e4a4a2" stroke-opacity="0.85" stroke-width="0.8" stroke-linejoin="round"/>
<polyline points="92.0,128.5 98.0,137.0 104.5,147.2 108.0,154.0 110.7,162.8" fill="none" stroke="#e4a4a2" stroke-opacity="0.18" stroke-width="1.7" stroke-linejoin="round"/>
<polyline points="92.0,128.5 98.0,137.0 104.5,147.2 108.0,154.0 110.7,162.8" fill="none" stroke="#e4a4a2" stroke-opacity="0.85" stroke-width="0.8" stroke-linejoin="round"/>
<polyline points="85.8,131.6 92.0,141.0 98.3,150.3 102.0,157.0 104.5,164.0" fill="none" stroke="#e4a4a2" stroke-opacity="0.18" stroke-width="1.6" stroke-linejoin="round"/>
<polyline points="85.8,131.6 92.0,141.0 98.3,150.3 102.0,157.0 104.5,164.0" fill="none" stroke="#e4a4a2" stroke-opacity="0.85" stroke-width="0.7" stroke-linejoin="round"/>
<polyline points="98.3,131.6 106.0,146.0 113.9,162.8" fill="none" stroke="#e4a4a2" stroke-opacity="0.18" stroke-width="1.6" stroke-linejoin="round"/>
<polyline points="98.3,131.6 106.0,146.0 113.9,162.8" fill="none" stroke="#e4a4a2" stroke-opacity="0.85" stroke-width="0.7" stroke-linejoin="round"/>
<polyline points="60.0,90.0 63.0,100.0 65.0,110.0" fill="none" stroke="#e4a4a2" stroke-opacity="0.18" stroke-width="1.5" stroke-linejoin="round"/>
<polyline points="60.0,90.0 63.0,100.0 65.0,110.0" fill="none" stroke="#e4a4a2" stroke-opacity="0.85" stroke-width="0.6" stroke-linejoin="round"/>
<polyline points="53.8,62.0 60.0,70.5 64.0,76.0 70.2,84.7 76.0,93.5 80.5,100.0 84.9,106.0 92.0,117.0 99.1,128.5 105.0,137.0 109.8,146.0 113.0,154.0 115.5,163.5" fill="none" stroke="#d8625e" stroke-opacity="0.18" stroke-width="1.8" stroke-linejoin="round"/>
<polyline points="53.8,62.0 60.0,70.5 64.0,76.0 70.2,84.7 76.0,93.5 80.5,100.0 84.9,106.0 92.0,117.0 99.1,128.5 105.0,137.0 109.8,146.0 113.0,154.0 115.5,163.5" fill="none" stroke="#d8625e" stroke-opacity="0.85" stroke-width="0.9" stroke-linejoin="round"/>
<polyline points="76.9,22.5 82.0,30.0 88.0,39.0 93.0,46.0 97.4,53.6 102.0,61.0 106.3,69.7 112.0,78.0 118.0,87.0 124.0,96.0" fill="none" stroke="#e4a4a2" stroke-opacity="0.18" stroke-width="1.8" stroke-linejoin="round"/>
<polyline points="76.9,22.5 82.0,30.0 88.0,39.0 93.0,46.0 97.4,53.6 102.0,61.0 106.3,69.7 112.0,78.0 118.0,87.0 124.0,96.0" fill="none" stroke="#e4a4a2" stroke-opacity="0.85" stroke-width="0.9" stroke-linejoin="round"/>
<polyline points="81.0,22.0 88.0,31.0 95.0,41.0 101.0,50.0 106.0,58.0 111.0,66.0 116.0,74.0 122.0,83.0 128.0,92.0" fill="none" stroke="#e4a4a2" stroke-opacity="0.18" stroke-width="1.7" stroke-linejoin="round"/>
<polyline points="81.0,22.0 88.0,31.0 95.0,41.0 101.0,50.0 106.0,58.0 111.0,66.0 116.0,74.0 122.0,83.0 128.0,92.0" fill="none" stroke="#e4a4a2" stroke-opacity="0.85" stroke-width="0.8" stroke-linejoin="round"/>
<polyline points="86.0,21.0 93.0,30.0 99.0,38.0 104.0,46.0" fill="none" stroke="#e4a4a2" stroke-opacity="0.18" stroke-width="1.7" stroke-linejoin="round"/>
<polyline points="86.0,21.0 93.0,30.0 99.0,38.0 104.0,46.0" fill="none" stroke="#e4a4a2" stroke-opacity="0.85" stroke-width="0.8" stroke-linejoin="round"/>
<polyline points="65.3,32.3 71.0,38.0 77.8,44.7" fill="none" stroke="#e4a4a2" stroke-opacity="0.18" stroke-width="1.5" stroke-linejoin="round"/>
<polyline points="65.3,32.3 71.0,38.0 77.8,44.7" fill="none" stroke="#e4a4a2" stroke-opacity="0.85" stroke-width="0.6" stroke-linejoin="round"/>
<polyline points="78.5,21.0 84.0,29.0 90.0,38.0 95.0,45.0 99.5,52.0 104.0,60.0 108.5,68.0" fill="none" stroke="#e4a4a2" stroke-opacity="0.18" stroke-width="1.5" stroke-linejoin="round"/>
<polyline points="78.5,21.0 84.0,29.0 90.0,38.0 95.0,45.0 99.5,52.0 104.0,60.0 108.5,68.0" fill="none" stroke="#e4a4a2" stroke-opacity="0.85" stroke-width="0.6" stroke-linejoin="round"/>
<polyline points="90.0,21.0 96.0,29.0 101.0,36.0 107.0,45.0 111.0,52.0" fill="none" stroke="#e4a4a2" stroke-opacity="0.18" stroke-width="1.5" stroke-linejoin="round"/>
<polyline points="90.0,21.0 96.0,29.0 101.0,36.0 107.0,45.0 111.0,52.0" fill="none" stroke="#e4a4a2" stroke-opacity="0.85" stroke-width="0.6" stroke-linejoin="round"/>
<polyline points="72.0,40.0 78.0,47.0 84.0,54.0 90.0,60.0" fill="none" stroke="#e4a4a2" stroke-opacity="0.18" stroke-width="1.5" stroke-linejoin="round"/>
<polyline points="72.0,40.0 78.0,47.0 84.0,54.0 90.0,60.0" fill="none" stroke="#e4a4a2" stroke-opacity="0.85" stroke-width="0.6" stroke-linejoin="round"/>
<polyline points="67.0,62.5 75.0,65.0 83.0,68.0" fill="none" stroke="#e4a4a2" stroke-opacity="0.18" stroke-width="1.5" stroke-linejoin="round"/>
<polyline points="67.0,62.5 75.0,65.0 83.0,68.0" fill="none" stroke="#e4a4a2" stroke-opacity="0.85" stroke-width="0.6" stroke-linejoin="round"/>
<polyline points="101.0,25.1 106.0,31.0 112.0,39.0 118.8,48.3" fill="none" stroke="#e4a4a2" stroke-opacity="0.18" stroke-width="1.7" stroke-linejoin="round"/>
<polyline points="101.0,25.1 106.0,31.0 112.0,39.0 118.8,48.3" fill="none" stroke="#e4a4a2" stroke-opacity="0.85" stroke-width="0.8" stroke-linejoin="round"/>
<polyline points="106.3,50.0 113.0,57.0 120.6,64.3" fill="none" stroke="#e4a4a2" stroke-opacity="0.18" stroke-width="1.7" stroke-linejoin="round"/>
<polyline points="106.3,50.0 113.0,57.0 120.6,64.3" fill="none" stroke="#e4a4a2" stroke-opacity="0.85" stroke-width="0.8" stroke-linejoin="round"/>
<polyline points="118.8,53.6 125.0,61.0 131.3,69.7" fill="none" stroke="#e4a4a2" stroke-opacity="0.18" stroke-width="1.7" stroke-linejoin="round"/>
<polyline points="118.8,53.6 125.0,61.0 131.3,69.7" fill="none" stroke="#e4a4a2" stroke-opacity="0.85" stroke-width="0.8" stroke-linejoin="round"/>
<polyline points="125.9,23.3 133.0,30.0 140.0,37.6" fill="none" stroke="#e4a4a2" stroke-opacity="0.18" stroke-width="1.7" stroke-linejoin="round"/>
<polyline points="125.9,23.3 133.0,30.0 140.0,37.6" fill="none" stroke="#e4a4a2" stroke-opacity="0.85" stroke-width="0.8" stroke-linejoin="round"/>
<polyline points="120.0,53.9 126.0,64.0 131.6,75.1" fill="none" stroke="#e4a4a2" stroke-opacity="0.18" stroke-width="1.7" stroke-linejoin="round"/>
<polyline points="120.0,53.9 126.0,64.0 131.6,75.1" fill="none" stroke="#e4a4a2" stroke-opacity="0.85" stroke-width="0.8" stroke-linejoin="round"/>
<polyline points="131.6,50.0 136.0,55.0 141.2,61.6 145.0,69.0 148.9,77.0 152.0,85.0 154.7,92.4 157.0,100.0 158.6,107.9" fill="none" stroke="#e4a4a2" stroke-opacity="0.18" stroke-width="1.8" stroke-linejoin="round"/>
<polyline points="131.6,50.0 136.0,55.0 141.2,61.6 145.0,69.0 148.9,77.0 152.0,85.0 154.7,92.4 157.0,100.0 158.6,107.9" fill="none" stroke="#e4a4a2" stroke-opacity="0.85" stroke-width="0.9" stroke-linejoin="round"/>
<polyline points="147.0,65.4 152.0,75.0 156.6,84.7 160.0,95.0 164.4,107.9" fill="none" stroke="#e4a4a2" stroke-opacity="0.18" stroke-width="1.7" stroke-linejoin="round"/>
<polyline points="147.0,65.4 152.0,75.0 156.6,84.7 160.0,95.0 164.4,107.9" fill="none" stroke="#e4a4a2" stroke-opacity="0.85" stroke-width="0.8" stroke-linejoin="round"/>
<polyline points="166.3,63.5 170.0,70.0 174.0,77.0 179.8,88.6 183.6,100.1" fill="none" stroke="#e4a4a2" stroke-opacity="0.18" stroke-width="1.7" stroke-linejoin="round"/>
<polyline points="166.3,63.5 170.0,70.0 174.0,77.0 179.8,88.6 183.6,100.1" fill="none" stroke="#e4a4a2" stroke-opacity="0.85" stroke-width="0.8" stroke-linejoin="round"/>
<polyline points="197.0,96.3 198.0,102.0 199.0,107.9" fill="none" stroke="#e4a4a2" stroke-opacity="0.18" stroke-width="1.6" stroke-linejoin="round"/>
<polyline points="197.0,96.3 198.0,102.0 199.0,107.9" fill="none" stroke="#e4a4a2" stroke-opacity="0.85" stroke-width="0.7" stroke-linejoin="round"/>
<polyline points="153.8,73.1 156.6,82.8" fill="none" stroke="#e4a4a2" stroke-opacity="0.18" stroke-width="1.6" stroke-linejoin="round"/>
<polyline points="153.8,73.1 156.6,82.8" fill="none" stroke="#e4a4a2" stroke-opacity="0.85" stroke-width="0.7" stroke-linejoin="round"/>
<polyline points="141.6,101.9 146.0,110.0 151.2,119.3 155.0,127.0 158.9,134.7 163.0,142.0 168.6,150.2 172.0,156.0 174.4,161.7" fill="none" stroke="#e4a4a2" stroke-opacity="0.18" stroke-width="1.8" stroke-linejoin="round"/>
<polyline points="141.6,101.9 146.0,110.0 151.2,119.3 155.0,127.0 158.9,134.7 163.0,142.0 168.6,150.2 172.0,156.0 174.4,161.7" fill="none" stroke="#e4a4a2" stroke-opacity="0.85" stroke-width="0.9" stroke-linejoin="round"/>
<polyline points="133.0,118.0 138.0,125.0 143.0,131.0 147.0,136.5 151.0,143.0 155.3,149.0 158.5,156.0 161.5,163.5" fill="none" stroke="#d8625e" stroke-opacity="0.18" stroke-width="1.7" stroke-linejoin="round"/>
<polyline points="133.0,118.0 138.0,125.0 143.0,131.0 147.0,136.5 151.0,143.0 155.3,149.0 158.5,156.0 161.5,163.5" fill="none" stroke="#d8625e" stroke-opacity="0.85" stroke-width="0.8" stroke-linejoin="round"/>
<polyline points="153.2,103.9 158.0,112.0 162.8,121.2 166.0,127.0 170.5,132.8" fill="none" stroke="#e4a4a2" stroke-opacity="0.18" stroke-width="1.7" stroke-linejoin="round"/>
<polyline points="153.2,103.9 158.0,112.0 162.8,121.2 166.0,127.0 170.5,132.8" fill="none" stroke="#e4a4a2" stroke-opacity="0.85" stroke-width="0.8" stroke-linejoin="round"/>
<polyline points="168.6,101.9 173.0,112.0 178.2,123.2 183.0,131.0 187.9,138.6 193.0,147.0 199.5,156.0" fill="none" stroke="#e4a4a2" stroke-opacity="0.18" stroke-width="1.7" stroke-linejoin="round"/>
<polyline points="168.6,101.9 173.0,112.0 178.2,123.2 183.0,131.0 187.9,138.6 193.0,147.0 199.5,156.0" fill="none" stroke="#e4a4a2" stroke-opacity="0.85" stroke-width="0.8" stroke-linejoin="round"/>
<polyline points="187.9,144.4 195.0,152.0 203.3,161.7" fill="none" stroke="#e4a4a2" stroke-opacity="0.18" stroke-width="1.7" stroke-linejoin="round"/>
<polyline points="187.9,144.4 195.0,152.0 203.3,161.7" fill="none" stroke="#e4a4a2" stroke-opacity="0.85" stroke-width="0.8" stroke-linejoin="round"/>
<polyline points="197.5,101.9 196.6,111.6" fill="none" stroke="#e4a4a2" stroke-opacity="0.18" stroke-width="1.6" stroke-linejoin="round"/>
<polyline points="197.5,101.9 196.6,111.6" fill="none" stroke="#e4a4a2" stroke-opacity="0.85" stroke-width="0.7" stroke-linejoin="round"/>
<polyline points="182.1,100.0 185.0,106.0 187.9,111.6" fill="none" stroke="#e4a4a2" stroke-opacity="0.18" stroke-width="1.6" stroke-linejoin="round"/>
<polyline points="182.1,100.0 185.0,106.0 187.9,111.6" fill="none" stroke="#e4a4a2" stroke-opacity="0.85" stroke-width="0.7" stroke-linejoin="round"/>
<polyline points="108.0,66.0 116.0,76.0 122.0,86.0 128.0,94.0" fill="none" stroke="#e4a4a2" stroke-opacity="0.18" stroke-width="1.7" stroke-linejoin="round"/>
<polyline points="108.0,66.0 116.0,76.0 122.0,86.0 128.0,94.0" fill="none" stroke="#e4a4a2" stroke-opacity="0.85" stroke-width="0.8" stroke-linejoin="round"/>
<polyline points="102.0,70.0 110.0,79.0 118.0,89.0 124.6,96.6" fill="none" stroke="#e4a4a2" stroke-opacity="0.18" stroke-width="1.6" stroke-linejoin="round"/>
<polyline points="102.0,70.0 110.0,79.0 118.0,89.0 124.6,96.6" fill="none" stroke="#e4a4a2" stroke-opacity="0.85" stroke-width="0.7" stroke-linejoin="round"/></g></g>
<g clip-path="url(#clipIfg)" opacity="0.86"><rect x="100" y="195" width="110" height="110" filter="url(#ifg)"/></g>
<g clip-path="url(#clipIfg)"><polygon points="121,214 130,208 136,238 124,246" fill="#b4acb8" opacity="0.5"/><polygon points="137,224 149,220 153,246 140,247" fill="#bcaea6" opacity="0.4"/><polygon points="170,256 182,254 180,268 170,266" fill="#c0b4b8" opacity="0.5"/></g>
<g transform="translate(-0.5,156.2)"><polygon points="120.4,100.7 124.0,99.5 128.2,97.1 131.1,98.9 135.9,101.3 139.4,104.3 141.2,107.8 137.6,112.0 135.5,116.5 134.0,120.5 133.5,124.5 135.0,129.0 137.0,133.0 136.5,137.0 135.5,141.6 137.3,145.2 139.7,147.6 143.3,148.8 145.6,152.3 148.0,154.7 150.4,157.1 152.2,159.4 152.8,163.2 132.0,163.2 132.6,158.3 133.2,153.5 132.0,148.8 131.4,145.2 127.8,142.8 123.1,141.6 118.3,141.0 117.5,140.0 117.5,138.5 117.0,136.5 118.2,133.0 118.8,129.5 118.5,126.0 118.4,122.0 119.5,118.0 120.5,114.4 119.3,106.6" fill="#fff" stroke="#888" stroke-width="0.5"/></g>
<g transform="translate(-0.5,156.2)" clip-path="url(#clipA)"><circle cx="70.9" cy="27.7" r="3.35" fill="none" stroke="#2c2c2c" stroke-width="1.0"/><circle cx="93.3" cy="28.7" r="3.35" fill="none" stroke="#2c2c2c" stroke-width="1.0"/><circle cx="96.7" cy="39.5" r="3.35" fill="none" stroke="#2c2c2c" stroke-width="1.0"/><circle cx="99.2" cy="47.7" r="3.35" fill="none" stroke="#2c2c2c" stroke-width="1.0"/><circle cx="123" cy="42.2" r="3.35" fill="none" stroke="#2c2c2c" stroke-width="1.0"/><circle cx="101.2" cy="63.3" r="3.35" fill="none" stroke="#2c2c2c" stroke-width="1.0"/><circle cx="83.5" cy="57.4" r="3.35" fill="none" stroke="#2c2c2c" stroke-width="1.0"/><circle cx="172.4" cy="48.9" r="3.35" fill="none" stroke="#2c2c2c" stroke-width="1.0"/><circle cx="201.6" cy="33.3" r="3.35" fill="none" stroke="#2c2c2c" stroke-width="1.0"/><circle cx="195.6" cy="44.7" r="3.35" fill="none" stroke="#2c2c2c" stroke-width="1.0"/><circle cx="206.3" cy="54.8" r="3.35" fill="none" stroke="#2c2c2c" stroke-width="1.0"/><circle cx="191.5" cy="66.6" r="3.35" fill="none" stroke="#2c2c2c" stroke-width="1.0"/><circle cx="57.2" cy="74.2" r="3.35" fill="none" stroke="#2c2c2c" stroke-width="1.0"/><circle cx="61.2" cy="97.6" r="3.35" fill="none" stroke="#2c2c2c" stroke-width="1.0"/><circle cx="75.4" cy="98.1" r="3.35" fill="none" stroke="#2c2c2c" stroke-width="1.0"/><circle cx="83.2" cy="91.7" r="3.35" fill="none" stroke="#2c2c2c" stroke-width="1.0"/><circle cx="87.4" cy="70.6" r="3.35" fill="none" stroke="#2c2c2c" stroke-width="1.0"/><circle cx="84.5" cy="73.6" r="3.35" fill="none" stroke="#2c2c2c" stroke-width="1.0"/><circle cx="94.9" cy="80.2" r="3.35" fill="none" stroke="#2c2c2c" stroke-width="1.0"/><circle cx="83.3" cy="91.4" r="3.35" fill="none" stroke="#2c2c2c" stroke-width="1.0"/><circle cx="116.4" cy="103.3" r="3.35" fill="none" stroke="#2c2c2c" stroke-width="1.0"/><circle cx="135.5" cy="83.2" r="3.35" fill="none" stroke="#2c2c2c" stroke-width="1.0"/><circle cx="185" cy="91.7" r="3.35" fill="none" stroke="#2c2c2c" stroke-width="1.0"/><circle cx="190.4" cy="92.4" r="3.35" fill="none" stroke="#2c2c2c" stroke-width="1.0"/><circle cx="65.1" cy="112.7" r="3.35" fill="none" stroke="#2c2c2c" stroke-width="1.0"/><circle cx="105.2" cy="113.1" r="3.35" fill="none" stroke="#2c2c2c" stroke-width="1.0"/><circle cx="108.6" cy="120.7" r="3.35" fill="none" stroke="#2c2c2c" stroke-width="1.0"/><circle cx="124.6" cy="124.9" r="3.35" fill="none" stroke="#2c2c2c" stroke-width="1.0"/><circle cx="131.4" cy="123.5" r="3.35" fill="none" stroke="#2c2c2c" stroke-width="1.0"/><circle cx="138.2" cy="126.9" r="3.35" fill="none" stroke="#2c2c2c" stroke-width="1.0"/><circle cx="146.6" cy="129.1" r="3.35" fill="none" stroke="#2c2c2c" stroke-width="1.0"/><circle cx="142.4" cy="134.2" r="3.35" fill="none" stroke="#2c2c2c" stroke-width="1.0"/><circle cx="118.4" cy="130" r="3.35" fill="none" stroke="#2c2c2c" stroke-width="1.0"/><circle cx="120.1" cy="143.2" r="3.35" fill="none" stroke="#2c2c2c" stroke-width="1.0"/><circle cx="128" cy="157.9" r="3.35" fill="none" stroke="#2c2c2c" stroke-width="1.0"/><circle cx="141.5" cy="110.5" r="3.35" fill="none" stroke="#2c2c2c" stroke-width="1.0"/><circle cx="183.3" cy="115.3" r="3.35" fill="none" stroke="#2c2c2c" stroke-width="1.0"/><circle cx="185.6" cy="121.9" r="3.35" fill="none" stroke="#2c2c2c" stroke-width="1.0"/><circle cx="155.3" cy="122.8" r="3.35" fill="none" stroke="#2c2c2c" stroke-width="1.0"/><circle cx="180.6" cy="133.5" r="3.35" fill="none" stroke="#2c2c2c" stroke-width="1.0"/><circle cx="164.6" cy="140.3" r="3.35" fill="none" stroke="#2c2c2c" stroke-width="1.0"/><circle cx="192.2" cy="139.7" r="3.35" fill="none" stroke="#2c2c2c" stroke-width="1.0"/><circle cx="160.1" cy="149.9" r="3.35" fill="none" stroke="#2c2c2c" stroke-width="1.0"/><circle cx="165" cy="150.4" r="3.35" fill="none" stroke="#2c2c2c" stroke-width="1.0"/><circle cx="180.6" cy="153.1" r="3.35" fill="none" stroke="#2c2c2c" stroke-width="1.0"/><circle cx="155.7" cy="159.3" r="3.35" fill="none" stroke="#2c2c2c" stroke-width="1.0"/><circle cx="158" cy="159.8" r="3.35" fill="none" stroke="#2c2c2c" stroke-width="1.0"/><line x1="70.9" y1="27.7" x2="72.1" y2="28.9" stroke="#333" stroke-width="0.8"/><line x1="93.3" y1="28.7" x2="94.9" y2="26.9" stroke="#333" stroke-width="0.8"/><line x1="96.7" y1="39.5" x2="96.8" y2="37.6" stroke="#333" stroke-width="0.8"/><line x1="99.2" y1="47.7" x2="97.9" y2="47.9" stroke="#333" stroke-width="0.8"/><line x1="123.0" y1="42.2" x2="123.7" y2="44.1" stroke="#333" stroke-width="0.8"/><line x1="101.2" y1="63.3" x2="101.6" y2="61.6" stroke="#333" stroke-width="0.8"/><line x1="83.5" y1="57.4" x2="82.8" y2="59.1" stroke="#333" stroke-width="0.8"/><line x1="172.4" y1="48.9" x2="171.7" y2="50.1" stroke="#333" stroke-width="0.8"/><line x1="201.6" y1="33.3" x2="202.9" y2="32.8" stroke="#333" stroke-width="0.8"/><line x1="195.6" y1="44.7" x2="197.0" y2="46.8" stroke="#333" stroke-width="0.8"/><line x1="206.3" y1="54.8" x2="206.6" y2="57.1" stroke="#333" stroke-width="0.8"/><line x1="191.5" y1="66.6" x2="193.6" y2="67.4" stroke="#333" stroke-width="0.8"/><line x1="57.2" y1="74.2" x2="58.0" y2="72.8" stroke="#333" stroke-width="0.8"/><line x1="61.2" y1="97.6" x2="60.6" y2="99.7" stroke="#333" stroke-width="0.8"/><line x1="75.4" y1="98.1" x2="76.5" y2="98.8" stroke="#333" stroke-width="0.8"/><line x1="83.2" y1="91.7" x2="84.7" y2="91.4" stroke="#333" stroke-width="0.8"/><line x1="87.4" y1="70.6" x2="89.7" y2="70.3" stroke="#333" stroke-width="0.8"/><line x1="84.5" y1="73.6" x2="86.6" y2="72.3" stroke="#333" stroke-width="0.8"/><line x1="94.9" y1="80.2" x2="93.7" y2="80.5" stroke="#333" stroke-width="0.8"/><line x1="83.3" y1="91.4" x2="85.1" y2="92.0" stroke="#333" stroke-width="0.8"/><line x1="116.4" y1="103.3" x2="116.6" y2="101.5" stroke="#333" stroke-width="0.8"/><line x1="135.5" y1="83.2" x2="134.2" y2="83.4" stroke="#333" stroke-width="0.8"/><line x1="185.0" y1="91.7" x2="185.2" y2="93.1" stroke="#333" stroke-width="0.8"/><line x1="190.4" y1="92.4" x2="190.9" y2="94.8" stroke="#333" stroke-width="0.8"/><line x1="65.1" y1="112.7" x2="66.1" y2="112.1" stroke="#333" stroke-width="0.8"/><line x1="105.2" y1="113.1" x2="106.0" y2="111.3" stroke="#333" stroke-width="0.8"/><line x1="108.6" y1="120.7" x2="108.7" y2="119.4" stroke="#333" stroke-width="0.8"/><line x1="124.6" y1="124.9" x2="126.1" y2="126.9" stroke="#333" stroke-width="0.8"/><line x1="131.4" y1="123.5" x2="132.9" y2="124.4" stroke="#333" stroke-width="0.8"/><line x1="138.2" y1="126.9" x2="138.1" y2="128.2" stroke="#333" stroke-width="0.8"/><line x1="146.6" y1="129.1" x2="146.9" y2="130.5" stroke="#333" stroke-width="0.8"/><line x1="142.4" y1="134.2" x2="142.6" y2="136.7" stroke="#333" stroke-width="0.8"/><line x1="118.4" y1="130.0" x2="118.9" y2="128.1" stroke="#333" stroke-width="0.8"/><line x1="120.1" y1="143.2" x2="120.2" y2="144.6" stroke="#333" stroke-width="0.8"/><line x1="128.0" y1="157.9" x2="130.5" y2="157.4" stroke="#333" stroke-width="0.8"/><line x1="141.5" y1="110.5" x2="140.2" y2="110.0" stroke="#333" stroke-width="0.8"/><line x1="183.3" y1="115.3" x2="182.2" y2="117.6" stroke="#333" stroke-width="0.8"/><line x1="185.6" y1="121.9" x2="187.5" y2="121.2" stroke="#333" stroke-width="0.8"/><line x1="155.3" y1="122.8" x2="155.7" y2="121.1" stroke="#333" stroke-width="0.8"/><line x1="180.6" y1="133.5" x2="180.1" y2="135.5" stroke="#333" stroke-width="0.8"/><line x1="164.6" y1="140.3" x2="163.7" y2="141.2" stroke="#333" stroke-width="0.8"/><line x1="192.2" y1="139.7" x2="194.6" y2="140.1" stroke="#333" stroke-width="0.8"/><line x1="160.1" y1="149.9" x2="160.4" y2="151.7" stroke="#333" stroke-width="0.8"/><line x1="165.0" y1="150.4" x2="167.3" y2="151.6" stroke="#333" stroke-width="0.8"/><line x1="180.6" y1="153.1" x2="180.9" y2="154.3" stroke="#333" stroke-width="0.8"/><line x1="155.7" y1="159.3" x2="154.4" y2="160.3" stroke="#333" stroke-width="0.8"/><line x1="158.0" y1="159.8" x2="159.2" y2="160.7" stroke="#333" stroke-width="0.8"/></g>
<g fill="none" stroke="#1e1e1e" stroke-width="1.05"><circle cx="118.5" cy="201.9" r="9.6"/><circle cx="108.3" cy="230.8" r="9.8"/><circle cx="99.4" cy="228.2" r="7.1"/><circle cx="155.5" cy="227.5" r="10"/><circle cx="139.5" cy="245.5" r="9.5"/><circle cx="152" cy="245" r="9.5"/><circle cx="159.1" cy="248" r="6.7"/><circle cx="169.5" cy="254" r="8.5"/><circle cx="153" cy="271.5" r="10.8"/><circle cx="157" cy="265.5" r="7.5"/><circle cx="173.8" cy="293.8" r="7.5"/><circle cx="86.7" cy="228.8" r="5"/></g>
<line x1="130.6" y1="221.8" x2="141.4" y2="253.6" stroke="#2a2a9c" stroke-width="2.6"/>
<line x1="74.4" y1="254.3" x2="63.7" y2="253.9" stroke="#111" stroke-width="0.8"/><polygon points="60.7,253.8 63.7,252.6 63.6,255.3" fill="#111"/><line x1="135.0" y1="240.0" x2="120.5" y2="206.3" stroke="#111" stroke-width="0.8"/><polygon points="119.3,203.5 121.7,205.7 119.2,206.8" fill="#111"/><line x1="117.9" y1="217.0" x2="101.9" y2="206.3" stroke="#111" stroke-width="0.8"/><polygon points="99.4,204.6 102.6,205.1 101.1,207.4" fill="#111"/><line x1="108.3" y1="234.4" x2="89.3" y2="228.5" stroke="#111" stroke-width="0.8"/><polygon points="86.4,227.6 89.7,227.2 88.9,229.8" fill="#111"/><line x1="108.3" y1="234.4" x2="87.2" y2="230.9" stroke="#111" stroke-width="0.8"/><polygon points="84.2,230.4 87.4,229.6 86.9,232.2" fill="#111"/><line x1="104.0" y1="236.0" x2="98.5" y2="235.0" stroke="#111" stroke-width="0.8"/><polygon points="95.5,234.5 98.7,233.7 98.2,236.4" fill="#111"/><line x1="147.3" y1="255.0" x2="156.0" y2="226.4" stroke="#111" stroke-width="0.8"/><polygon points="156.9,223.5 157.3,226.8 154.7,226.0" fill="#111"/><line x1="148.7" y1="215.4" x2="138.1" y2="239.4" stroke="#111" stroke-width="0.8"/><polygon points="136.9,242.1 136.9,238.8 139.3,239.9" fill="#111"/><line x1="125.0" y1="216.9" x2="138.3" y2="241.0" stroke="#111" stroke-width="0.8"/><polygon points="139.8,243.6 137.2,241.6 139.5,240.3" fill="#111"/><line x1="150.0" y1="247.0" x2="167.4" y2="237.4" stroke="#111" stroke-width="0.8"/><polygon points="170.0,236.0 168.0,238.6 166.7,236.3" fill="#111"/><line x1="150.0" y1="247.0" x2="179.0" y2="247.5" stroke="#111" stroke-width="0.8"/><polygon points="182.0,247.5 179.0,248.8 179.0,246.1" fill="#111"/><line x1="150.0" y1="247.0" x2="174.5" y2="264.3" stroke="#111" stroke-width="0.8"/><polygon points="177.0,266.0 173.8,265.4 175.3,263.2" fill="#111"/><line x1="152.0" y1="270.0" x2="180.0" y2="271.4" stroke="#111" stroke-width="0.8"/><polygon points="183.0,271.5 179.9,272.7 180.1,270.0" fill="#111"/><line x1="152.0" y1="270.0" x2="181.1" y2="276.8" stroke="#111" stroke-width="0.8"/><polygon points="184.0,277.5 180.8,278.1 181.4,275.5" fill="#111"/><line x1="160.0" y1="262.0" x2="165.3" y2="283.1" stroke="#111" stroke-width="0.8"/><polygon points="166.0,286.0 164.0,283.4 166.6,282.8" fill="#111"/><line x1="172.0" y1="282.0" x2="177.4" y2="287.6" stroke="#111" stroke-width="0.8"/><polygon points="179.5,289.8 176.4,288.6 178.4,286.7" fill="#111"/><line x1="150.0" y1="247.0" x2="142.4" y2="261.3" stroke="#111" stroke-width="0.8"/><polygon points="141.0,264.0 141.2,260.7 143.6,262.0" fill="#111"/><line x1="143.0" y1="262.0" x2="156.7" y2="289.3" stroke="#111" stroke-width="0.8"/><polygon points="158.0,292.0 155.5,289.9 157.9,288.7" fill="#111"/><line x1="138.0" y1="246.0" x2="131.5" y2="234.6" stroke="#111" stroke-width="0.8"/><polygon points="130.0,232.0 132.7,233.9 130.3,235.3" fill="#111"/>
<line x1="107.4" y1="238" x2="107.4" y2="248" stroke="#555" stroke-width="0.9"/>
<rect x="36.8" y="175.7" width="173.6" height="143.2" fill="none" stroke="#4a4a4a" stroke-width="1.3"/>
<line x1="67.2" y1="319.1" x2="67.2" y2="323.1" stroke="#333" stroke-width="0.8"/>
<line x1="118.7" y1="319.1" x2="118.7" y2="323.1" stroke="#333" stroke-width="0.8"/>
<line x1="170.0" y1="319.1" x2="170.0" y2="323.1" stroke="#333" stroke-width="0.8"/>
<line x1="34.5" y1="207.39999999999998" x2="37" y2="207.39999999999998" stroke="#333" stroke-width="0.8"/>
<line x1="211.5" y1="207.39999999999998" x2="214" y2="207.39999999999998" stroke="#333" stroke-width="0.8"/>
<line x1="34.5" y1="271.79999999999995" x2="37" y2="271.79999999999995" stroke="#333" stroke-width="0.8"/>
<line x1="211.5" y1="271.79999999999995" x2="214" y2="271.79999999999995" stroke="#333" stroke-width="0.8"/>
<text x="4.5" y="178.8" font-size="13.5" text-anchor="start" font-weight="bold" >c</text>
<text x="66.4" y="332.8" font-size="11" text-anchor="middle" font-weight="normal" >−123°00'</text>
<text x="118.2" y="332.8" font-size="11" text-anchor="middle" font-weight="normal" >−122°30'</text>
<text x="169.5" y="332.8" font-size="11" text-anchor="middle" font-weight="normal" >−122°00'</text>
<text x="33.6" y="211.6" font-size="11" text-anchor="end" font-weight="normal" >38°30'</text>
<text x="33.6" y="276.4" font-size="11" text-anchor="end" font-weight="normal" >38°00'</text>
<path d="M48.2 304.8V302.4H59.8V304.8" fill="none" stroke="#222" stroke-width="0.8"/>
<text x="38.2" y="313.8" font-size="12" text-anchor="start" font-weight="normal" >10 km</text>
<rect x="280" y="24" width="226" height="134" fill="#3a4ea8"/>
<polygon points="280,24 309,24 280,58" fill="#3b72c0" stroke="#3b72c0" stroke-width="0.4" stroke-linejoin="round"/>
<polygon points="309,24 280,58 312,60" fill="#5cc3e8" stroke="#5cc3e8" stroke-width="0.4" stroke-linejoin="round"/>
<polygon points="309,24 338,24 312,60" fill="#c9dc3a" stroke="#c9dc3a" stroke-width="0.4" stroke-linejoin="round"/>
<polygon points="338,24 312,60 342,57" fill="#f6a623" stroke="#f6a623" stroke-width="0.4" stroke-linejoin="round"/>
<polygon points="338,24 365.6,24 342,57" fill="#e3232a" stroke="#e3232a" stroke-width="0.4" stroke-linejoin="round"/>
<polygon points="365.6,24 342,57 369,61" fill="#7e1518" stroke="#7e1518" stroke-width="0.4" stroke-linejoin="round"/>
<polygon points="365.6,24 369,61 393.5,55" fill="#801619" stroke="#801619" stroke-width="0.4" stroke-linejoin="round"/>
<polygon points="365.6,24 394,24 393.5,55" fill="#e3232a" stroke="#e3232a" stroke-width="0.4" stroke-linejoin="round"/>
<polygon points="394,24 421,24 393.5,55" fill="#f39a22" stroke="#f39a22" stroke-width="0.4" stroke-linejoin="round"/>
<polygon points="421,24 393.5,55 419,60.5" fill="#f7a823" stroke="#f7a823" stroke-width="0.4" stroke-linejoin="round"/>
<polygon points="421,24 419,60.5 445,58" fill="#dfe22e" stroke="#dfe22e" stroke-width="0.4" stroke-linejoin="round"/>
<polygon points="421,24 479,24 445,58" fill="#9acb6a" stroke="#9acb6a" stroke-width="0.4" stroke-linejoin="round"/>
<polygon points="479,24 445,58 506,59" fill="#98cb6c" stroke="#98cb6c" stroke-width="0.4" stroke-linejoin="round"/>
<polygon points="479,24 506,24 506,59" fill="#7ec89e" stroke="#7ec89e" stroke-width="0.4" stroke-linejoin="round"/>
<polygon points="280,58 312,60 310,93" fill="#3b4fa6" stroke="#3b4fa6" stroke-width="0.4" stroke-linejoin="round"/>
<polygon points="280,58 310,93 280,91.4" fill="#3a4ca4" stroke="#3a4ca4" stroke-width="0.4" stroke-linejoin="round"/>
<polygon points="312,60 310,93 335.5,89" fill="#40a8e0" stroke="#40a8e0" stroke-width="0.4" stroke-linejoin="round"/>
<polygon points="312,60 342,57 335.5,89" fill="#a4cc60" stroke="#a4cc60" stroke-width="0.4" stroke-linejoin="round"/>
<polygon points="342,57 335.5,89 362,91.5" fill="#d6df40" stroke="#d6df40" stroke-width="0.4" stroke-linejoin="round"/>
<polygon points="342,57 369,61 362,91.5" fill="#f7a228" stroke="#f7a228" stroke-width="0.4" stroke-linejoin="round"/>
<polygon points="369,61 362,91.5 394,91" fill="#f58220" stroke="#f58220" stroke-width="0.4" stroke-linejoin="round"/>
<polygon points="369,61 393.5,55 394,91" fill="#ee5524" stroke="#ee5524" stroke-width="0.4" stroke-linejoin="round"/>
<polygon points="393.5,55 419,60.5 394,91" fill="#f7a228" stroke="#f7a228" stroke-width="0.4" stroke-linejoin="round"/>
<polygon points="419,60.5 394,91 425,91.5" fill="#e2e234" stroke="#e2e234" stroke-width="0.4" stroke-linejoin="round"/>
<polygon points="419,60.5 445,58 425,91.5" fill="#7bc8a0" stroke="#7bc8a0" stroke-width="0.4" stroke-linejoin="round"/>
<polygon points="445,58 425,91.5 454.5,91.5" fill="#76c6a6" stroke="#76c6a6" stroke-width="0.4" stroke-linejoin="round"/>
<polygon points="445,58 475,60 454.5,91.5" fill="#72c4a6" stroke="#72c4a6" stroke-width="0.4" stroke-linejoin="round"/>
<polygon points="475,60 454.5,91.5 479.3,91" fill="#3a8ad4" stroke="#3a8ad4" stroke-width="0.4" stroke-linejoin="round"/>
<polygon points="475,60 506,59 479.3,91" fill="#3c9ee0" stroke="#3c9ee0" stroke-width="0.4" stroke-linejoin="round"/>
<polygon points="506,59 479.3,91 506,90.5" fill="#3a50a8" stroke="#3a50a8" stroke-width="0.4" stroke-linejoin="round"/>
<polygon points="280,91.4 310,93 280,117" fill="#2c3c98" stroke="#2c3c98" stroke-width="0.4" stroke-linejoin="round"/>
<polygon points="310,93 306,116.5 280,117" fill="#2a3890" stroke="#2a3890" stroke-width="0.4" stroke-linejoin="round"/>
<polygon points="310,93 337,116 306,116.5" fill="#3c5ab4" stroke="#3c5ab4" stroke-width="0.4" stroke-linejoin="round"/>
<polygon points="310,93 335.5,89 337,116" fill="#3c5ab4" stroke="#3c5ab4" stroke-width="0.4" stroke-linejoin="round"/>
<polygon points="335.5,89 365.6,115 337,116" fill="#62c4d8" stroke="#62c4d8" stroke-width="0.4" stroke-linejoin="round"/>
<polygon points="335.5,89 362,91.5 365.6,115" fill="#5cc4e0" stroke="#5cc4e0" stroke-width="0.4" stroke-linejoin="round"/>
<polygon points="362,91.5 394,91 365.6,115" fill="#b4d248" stroke="#b4d248" stroke-width="0.4" stroke-linejoin="round"/>
<polygon points="394,91 365.6,115 394,116" fill="#6cc4a0" stroke="#6cc4a0" stroke-width="0.4" stroke-linejoin="round"/>
<polygon points="394,91 425,91.5 418,121.4" fill="#98cc68" stroke="#98cc68" stroke-width="0.4" stroke-linejoin="round"/>
<polygon points="394,91 418,121.4 396,128" fill="#70c4a8" stroke="#70c4a8" stroke-width="0.4" stroke-linejoin="round"/>
<polygon points="394,91 396,128 394,116" fill="#6cc4a8" stroke="#6cc4a8" stroke-width="0.4" stroke-linejoin="round"/>
<polygon points="425,91.5 418,121.4 445.7,123.6" fill="#3cbcec" stroke="#3cbcec" stroke-width="0.4" stroke-linejoin="round"/>
<polygon points="425,91.5 454.5,91.5 445.7,123.6" fill="#60c0e0" stroke="#60c0e0" stroke-width="0.4" stroke-linejoin="round"/>
<polygon points="454.5,91.5 445.7,123.6 468,113" fill="#3a74c2" stroke="#3a74c2" stroke-width="0.4" stroke-linejoin="round"/>
<polygon points="454.5,91.5 479.3,91 468,113" fill="#3a62b4" stroke="#3a62b4" stroke-width="0.4" stroke-linejoin="round"/>
<polygon points="479.3,91 506,90.5 468,113" fill="#3a56ac" stroke="#3a56ac" stroke-width="0.4" stroke-linejoin="round"/>
<polygon points="506,90.5 468,113 506,122" fill="#3a4ea8" stroke="#3a4ea8" stroke-width="0.4" stroke-linejoin="round"/>
<polygon points="396,128 418,121.4 445.7,123.6" fill="#3c78c8" stroke="#3c78c8" stroke-width="0.4" stroke-linejoin="round"/>
<polygon points="396,128 445.7,123.6 422,158" fill="#3c80cc" stroke="#3c80cc" stroke-width="0.4" stroke-linejoin="round"/>
<polygon points="396,128 422,158 394,158" fill="#3a4ea8" stroke="#3a4ea8" stroke-width="0.4" stroke-linejoin="round"/>
<polygon points="445.7,123.6 468,113 422,158" fill="#3a5cb0" stroke="#3a5cb0" stroke-width="0.4" stroke-linejoin="round"/>
<polygon points="468,113 506,122 506,158" fill="#3a4aa4" stroke="#3a4aa4" stroke-width="0.4" stroke-linejoin="round"/>
<polygon points="468,113 422,158 506,158" fill="#3a4ca6" stroke="#3a4ca6" stroke-width="0.4" stroke-linejoin="round"/>
<polygon points="467.90,113.80 470.07,118.41 475.13,119.05 471.42,122.54 472.37,127.55 467.90,125.10 463.43,127.55 464.38,122.54 460.67,119.05 465.73,118.41" fill="#f2ea1e" stroke="#222" stroke-width="0.8"/>
<rect x="279.6" y="116.5" width="114.8" height="41" fill="#fff" stroke="#111" stroke-width="1.2"/>
<rect x="286" y="134.2" width="104.5" height="9.3" fill="url(#jet)" stroke="#222" stroke-width="0.5"/>
<line x1="295.5" y1="134.2" x2="295.5" y2="135.39999999999998" stroke="#222" stroke-width="0.5"/>
<line x1="295.5" y1="142.3" x2="295.5" y2="143.5" stroke="#222" stroke-width="0.5"/>
<line x1="305.0" y1="134.2" x2="305.0" y2="135.39999999999998" stroke="#222" stroke-width="0.5"/>
<line x1="305.0" y1="142.3" x2="305.0" y2="143.5" stroke="#222" stroke-width="0.5"/>
<line x1="314.5" y1="134.2" x2="314.5" y2="135.39999999999998" stroke="#222" stroke-width="0.5"/>
<line x1="314.5" y1="142.3" x2="314.5" y2="143.5" stroke="#222" stroke-width="0.5"/>
<line x1="324.0" y1="134.2" x2="324.0" y2="135.39999999999998" stroke="#222" stroke-width="0.5"/>
<line x1="324.0" y1="142.3" x2="324.0" y2="143.5" stroke="#222" stroke-width="0.5"/>
<line x1="333.5" y1="134.2" x2="333.5" y2="135.39999999999998" stroke="#222" stroke-width="0.5"/>
<line x1="333.5" y1="142.3" x2="333.5" y2="143.5" stroke="#222" stroke-width="0.5"/>
<line x1="343.0" y1="134.2" x2="343.0" y2="135.39999999999998" stroke="#222" stroke-width="0.5"/>
<line x1="343.0" y1="142.3" x2="343.0" y2="143.5" stroke="#222" stroke-width="0.5"/>
<line x1="352.5" y1="134.2" x2="352.5" y2="135.39999999999998" stroke="#222" stroke-width="0.5"/>
<line x1="352.5" y1="142.3" x2="352.5" y2="143.5" stroke="#222" stroke-width="0.5"/>
<line x1="362.0" y1="134.2" x2="362.0" y2="135.39999999999998" stroke="#222" stroke-width="0.5"/>
<line x1="362.0" y1="142.3" x2="362.0" y2="143.5" stroke="#222" stroke-width="0.5"/>
<line x1="371.5" y1="134.2" x2="371.5" y2="135.39999999999998" stroke="#222" stroke-width="0.5"/>
<line x1="371.5" y1="142.3" x2="371.5" y2="143.5" stroke="#222" stroke-width="0.5"/>
<line x1="381.0" y1="134.2" x2="381.0" y2="135.39999999999998" stroke="#222" stroke-width="0.5"/>
<line x1="381.0" y1="142.3" x2="381.0" y2="143.5" stroke="#222" stroke-width="0.5"/>
<text x="339.3" y="131.4" font-size="13.4" text-anchor="middle" font-weight="normal" >Slip (m)</text>
<text x="286.5" y="155.2" font-size="12" text-anchor="middle" font-weight="normal" >0</text>
<text x="327.5" y="155.2" font-size="12" text-anchor="middle" font-weight="normal" >0.1</text>
<text x="371.2" y="155.2" font-size="12" text-anchor="middle" font-weight="normal" >0.2</text>
<rect x="279.6" y="24" width="226.2" height="133.6" fill="none" stroke="#1a1a1a" stroke-width="1.1"/>
<line x1="280.2" y1="24" x2="280.2" y2="158" stroke="#444" stroke-width="1.8"/>
<text x="226" y="28.5" font-size="13.5" text-anchor="start" font-weight="normal" >b</text>
<text x="273.8" y="28.5" font-size="10.5" text-anchor="end" font-weight="normal" >0</text>
<text x="273.8" y="71.6" font-size="10.5" text-anchor="end" font-weight="normal" >5</text>
<text x="273.8" y="117.6" font-size="10.5" text-anchor="end" font-weight="normal" >10</text>
<text x="273.8" y="162" font-size="10.5" text-anchor="end" font-weight="normal" >15</text>
<text x="278.5" y="171.6" font-size="11" text-anchor="middle" font-weight="normal" >-12.5</text>
<text x="503.5" y="171.2" font-size="11" text-anchor="middle" font-weight="normal" >12.5</text>
<text x="0" y="0" font-size="12" text-anchor="middle" font-weight="normal" transform="translate(262.4,92.3) rotate(-90)">Depth (km)</text>
<g clip-path="url(#clipD)"><rect x="247.2" y="176.8" width="295.00000000000006" height="132.0" fill="#262a6a"/>
<path d="M474.6 283.6L479.9 296.7 M521.1 270.4L516.6 281.6 M284.1 191.4L302.7 187.4 M475.5 202.2L463.4 214.2 M541.6 292.6L542.2 308.8 M446.9 214.5L463.4 214.2 M453.4 176.8L452.5 187.8 M319.3 239.3L337.1 248.2 M269.0 293.6L279.9 308.8 M506.1 189.0L502.0 200.4 M538.4 269.2L534.3 278.2 M463.4 214.2L480.0 218.4 M300.8 241.1L306.0 255.7 M293.3 255.8L306.0 255.7 M412.0 246.7L428.0 254.7 M452.6 295.5L466.0 294.0 M452.5 187.8L468.4 190.5 M306.0 255.7L322.8 256.0 M430.0 209.5L439.8 204.2 M492.4 242.1L490.5 254.8 M282.9 294.3L279.9 308.8 M321.5 279.3L332.3 291.9 M468.4 190.5L480.6 192.6 M247.2 229.3L259.6 230.4 M335.0 281.7L348.6 279.3 M373.1 291.5L383.6 308.8 M359.0 264.6L376.0 269.5 M335.0 281.7L347.8 291.5 M259.6 230.4L280.7 229.0 M393.2 176.8L402.1 191.3 M359.0 264.6L365.6 279.4 M444.8 253.1L452.7 266.2 M247.2 308.8L261.2 308.8 M385.0 176.8L390.6 188.0 M405.0 273.0L398.0 277.0 M386.4 295.6L395.1 308.8 M247.2 201.6L262.1 204.9 M533.8 308.8L542.2 308.8 M503.1 255.2L514.7 254.8 M472.7 229.8L477.9 244.1 M293.3 255.8L303.4 267.9 M443.0 282.2L433.7 292.0 M262.1 204.9L280.9 204.0 M491.7 215.3L490.2 229.9 M452.5 187.8L456.3 202.1 M455.6 279.9L474.6 283.6 M479.9 296.7L484.7 308.8 M405.0 273.0L410.6 279.7 M455.6 279.9L452.6 295.5 M490.2 229.9L502.6 229.2 M511.0 218.1L502.6 229.2 M490.2 229.9L477.9 244.1 M247.2 268.8L247.2 280.5 M352.1 308.8L366.0 308.8 M337.1 248.2L341.2 266.1 M393.2 176.8L410.6 176.8 M494.9 291.3L500.9 308.8 M247.2 296.5L247.2 308.8 M313.8 267.9L332.3 269.3 M385.0 176.8L393.2 176.8 M366.0 308.8L383.6 308.8 M269.0 293.6L261.2 308.8 M376.0 269.5L365.6 279.4 M300.8 241.1L293.3 255.8 M405.0 204.0L414.4 202.2 M452.7 266.2L455.6 279.9 M247.2 241.7L247.2 242.8 M319.6 219.5L319.6 230.0 M282.9 294.3L297.3 294.0 M430.0 209.5L423.4 203.0 M461.1 267.2L474.6 283.6 M321.5 279.3L317.9 293.8 M428.0 254.7L417.2 270.8 M469.9 308.8L484.7 308.8 M373.1 291.5L366.0 308.8 M310.5 186.5L311.0 197.0 M444.8 253.1L430.8 268.9 M472.7 229.8L490.2 229.9 M488.5 176.8L497.0 191.5 M535.6 257.3L538.4 269.2 M472.7 229.8L464.2 242.2 M335.0 308.8L352.1 308.8 M293.3 255.8L281.8 269.6 M517.6 205.3L528.7 213.7 M319.6 205.0L312.8 216.2 M499.9 176.8L506.1 189.0 M303.4 267.9L313.8 267.9 M405.0 273.0L417.2 270.8 M479.9 296.7L469.9 308.8 M456.3 202.1L475.5 202.2 M303.4 282.8L297.3 294.0 M247.2 296.5L269.0 293.6 M527.9 244.1L535.6 257.3 M337.1 248.2L332.3 269.3 M475.5 202.2L486.0 201.9 M302.7 187.4L289.9 203.1 M288.3 226.2L300.8 241.1 M287.6 242.6L300.8 241.1 M341.2 266.1L335.0 281.7 M269.0 293.6L282.9 294.3 M398.0 198.0L405.0 204.0 M488.5 176.8L499.9 176.8 M438.2 214.3L438.2 227.8 M452.7 266.2L461.1 267.2 M247.2 201.6L247.2 217.9 M457.1 308.8L469.9 308.8 M452.7 266.2L443.0 282.2 M499.9 176.8L515.6 176.8 M271.7 217.7L287.3 214.3 M289.9 203.1L287.3 214.3 M279.1 254.5L268.3 265.6 M306.5 230.9L300.8 241.1 M292.0 176.8L302.7 187.4 M319.3 239.3L306.0 255.7 M461.1 267.2L478.3 267.6 M430.0 209.5L414.4 202.2 M438.1 188.0L423.4 203.0 M287.3 214.3L299.6 214.9 M527.9 244.1L536.8 242.5 M337.1 248.2L322.8 256.0 M373.1 291.5L386.4 295.6 M247.2 280.5L263.6 281.6 M247.2 280.5L247.2 296.5 M390.6 188.0L402.1 191.3 M502.0 200.4L491.7 215.3 M480.0 218.4L491.7 215.3 M488.5 176.8L480.6 192.6 M263.6 281.6L279.7 278.7 M535.6 257.3L521.1 270.4 M534.0 176.8L542.2 176.8 M536.8 242.5L542.2 242.8 M533.6 229.5L542.2 242.8 M297.3 294.0L306.4 308.8 M319.3 239.3L306.5 230.9 M491.7 215.3L511.0 218.1 M517.6 205.3L511.0 218.1 M271.7 217.7L280.7 229.0 M479.9 296.7L494.9 291.3 M274.0 176.8L284.1 191.4 M390.0 266.0L384.0 281.4 M247.2 253.0L247.2 242.8 M317.9 293.8L326.0 308.8 M352.0 264.6L359.0 264.6 M428.0 254.7L444.8 253.1 M280.7 229.0L265.9 242.0 M527.9 244.1L514.7 254.8 M497.0 191.5L506.1 189.0 M288.3 226.2L287.6 242.6 M365.6 279.4L384.0 281.4 M400.9 291.1L408.7 308.8 M365.6 279.4L373.1 291.5 M471.2 176.8L468.4 190.5 M423.3 295.5L423.6 308.8 M502.6 229.2L507.0 242.5 M483.9 278.2L494.9 291.3 M518.5 227.7L527.9 244.1 M281.8 269.6L291.4 281.5 M383.0 262.0L390.0 266.0 M526.6 294.6L533.8 308.8 M537.4 192.0L532.7 204.3 M297.3 294.0L289.9 308.8 M480.6 192.6L497.0 191.5 M390.0 266.0L376.0 269.5 M274.0 176.8L271.2 191.7 M319.6 230.0L312.8 216.2 M410.6 176.8L421.7 190.2 M280.7 229.0L288.3 226.2 M384.0 197.0L390.6 188.0 M460.2 254.6L461.1 267.2 M494.1 270.5L504.3 280.8 M398.0 277.0L390.0 266.0 M439.8 204.2L446.9 214.5 M430.3 176.8L438.1 188.0 M288.3 226.2L306.5 230.9 M474.7 256.6L478.3 267.6 M279.9 308.8L289.9 308.8 M400.9 291.1L395.1 308.8 M280.9 204.0L289.9 203.1 M537.4 192.0L540.0 218.1 M538.4 269.2L542.2 242.8 M322.8 256.0L332.3 269.3 M310.5 176.8L302.7 187.4 M528.7 213.7L518.5 227.7 M502.6 229.2L518.5 227.7 M502.6 229.2L492.4 242.1 M268.3 265.6L263.6 281.6 M398.0 277.0L400.9 291.1 M480.6 192.6L486.0 201.9 M483.9 278.2L504.3 280.8 M464.2 242.2L474.7 256.6 M410.6 176.8L430.3 176.8 M506.3 294.4L515.3 308.8 M247.2 217.9L247.2 229.3 M431.0 239.3L428.0 254.7 M540.0 218.1L533.6 229.5 M518.5 227.7L533.6 229.5 M534.0 176.8L537.4 192.0 M319.6 219.5L312.8 216.2 M281.8 269.6L279.7 278.7 M383.6 308.8L395.1 308.8 M348.6 279.3L365.6 279.4 M430.3 176.8L442.0 176.8 M486.0 201.9L502.0 200.4 M348.6 279.3L357.4 295.1 M540.0 218.1L542.2 176.8 M261.2 308.8L279.9 308.8 M502.0 200.4L517.6 205.3 M297.3 294.0L317.9 293.8 M310.5 176.8L292.0 176.8 M514.7 254.8L535.6 257.3 M306.0 255.7L313.8 267.9 M464.2 242.2L477.9 244.1 M535.6 257.3L542.2 242.8 M484.7 308.8L500.9 308.8 M468.4 190.5L475.5 202.2 M474.6 283.6L483.9 278.2 M452.2 241.4L460.2 254.6 M410.6 176.8L402.1 191.3 M474.6 283.6L466.0 294.0 M494.1 270.5L506.7 270.5 M460.2 254.6L452.7 266.2 M439.8 204.2L438.2 214.3 M400.9 291.1L423.3 295.5 M332.3 269.3L341.2 266.1 M532.7 204.3L540.0 218.1 M265.9 242.0L279.1 254.5 M515.6 176.8L521.4 188.0 M542.2 308.8L542.2 242.8 M398.0 277.0L410.6 279.7 M452.2 241.4L464.2 242.2 M506.3 294.4L500.9 308.8 M478.3 267.6L483.9 278.2 M335.0 281.7L332.3 291.9 M393.2 176.8L390.6 188.0 M347.8 291.5L352.1 308.8 M359.0 264.6L348.6 279.3 M446.9 214.5L459.4 229.9 M386.4 295.6L383.6 308.8 M348.6 279.3L347.8 291.5 M410.6 279.7L423.3 295.5 M515.6 176.8L534.0 176.8 M463.4 214.2L472.7 229.8 M438.2 227.8L452.2 241.4 M452.5 187.8L439.8 204.2 M306.0 255.7L303.4 267.9 M430.0 209.5L438.2 214.3 M431.0 239.3L438.2 227.8 M468.4 190.5L456.3 202.1 M452.2 241.4L444.8 253.1 M311.0 197.0L319.6 205.0 M494.9 291.3L484.7 308.8 M516.6 281.6L526.6 294.6 M402.1 191.3L421.7 190.2 M261.5 256.1L279.1 254.5 M313.8 267.9L321.5 279.3 M319.6 205.0L319.6 219.5 M532.7 204.3L528.7 213.7 M384.0 281.4L400.9 291.1 M332.3 269.3L335.0 281.7 M291.4 281.5L303.4 282.8 M417.2 270.8L424.2 279.3 M412.0 246.7L417.2 270.8 M332.3 291.9L335.0 308.8 M262.1 204.9L271.7 217.7 M461.1 267.2L455.6 279.9 M506.3 294.4L526.6 294.6 M265.9 242.0L247.2 242.8 M478.3 267.6L494.1 270.5 M430.0 209.5L438.2 227.8 M478.3 267.6L474.6 283.6 M460.2 254.6L474.7 256.6 M299.6 214.9L312.8 216.2 M386.4 295.6L400.9 291.1 M446.9 214.5L438.2 227.8 M490.5 254.8L494.1 270.5 M410.6 279.7L424.2 279.3 M247.2 253.0L261.5 256.1 M433.7 292.0L444.5 308.8 M463.4 214.2L459.4 229.9 M438.2 227.8L459.4 229.9 M263.6 281.6L269.0 293.6 M310.5 186.5L302.7 187.4 M398.0 198.0L402.1 191.3 M503.1 255.2L506.7 270.5 M306.4 308.8L326.0 308.8 M319.6 230.0L319.3 239.3 M499.9 176.8L497.0 191.5 M279.7 278.7L291.4 281.5 M268.3 265.6L281.8 269.6 M303.4 267.9L303.4 282.8 M279.7 278.7L282.9 294.3 M511.0 218.1L528.7 213.7 M287.3 214.3L288.3 226.2 M423.4 203.0L439.8 204.2 M494.9 291.3L506.3 294.4 M271.2 191.7L280.9 204.0 M247.2 229.3L247.2 241.7 M516.6 281.6L534.3 278.2 M444.8 253.1L460.2 254.6 M299.6 214.9L306.5 230.9 M536.8 242.5L535.6 257.3 M259.6 230.4L265.9 242.0 M247.2 241.7L265.9 242.0 M506.1 189.0L521.4 188.0 M313.8 267.9L303.4 282.8 M408.7 308.8L423.6 308.8 M247.2 253.0L247.2 268.8 M384.0 281.4L386.4 295.6 M417.2 270.8L430.8 268.9 M292.0 176.8L284.1 191.4 M261.5 256.1L247.2 242.8 M262.1 204.9L247.2 217.9 M289.9 308.8L306.4 308.8 M247.2 176.8L264.6 176.8 M247.2 268.8L268.3 265.6 M456.3 202.1L463.4 214.2 M504.3 280.8L506.3 294.4 M247.2 190.7L262.1 204.9 M533.6 229.5L536.8 242.5 M497.0 191.5L502.0 200.4 M475.5 202.2L480.0 218.4 M541.6 292.6L542.2 242.8 M490.5 254.8L478.3 267.6 M506.1 189.0L517.6 205.3 M433.7 292.0L423.6 308.8 M263.6 281.6L247.2 296.5 M271.7 217.7L259.6 230.4 M317.9 293.8L306.4 308.8 M279.7 278.7L269.0 293.6 M303.4 267.9L291.4 281.5 M247.2 176.8L247.2 190.7 M287.3 214.3L280.7 229.0 M541.6 292.6L533.8 308.8 M506.7 270.5L516.6 281.6 M365.6 279.4L357.4 295.1 M442.0 176.8L452.5 187.8 M480.0 218.4L490.2 229.9 M423.3 295.5L408.7 308.8 M384.0 281.4L373.1 291.5 M443.0 282.2L452.6 295.5 M491.7 215.3L502.6 229.2 M483.9 278.2L479.9 296.7 M414.4 202.2L423.4 203.0 M319.6 230.0L306.5 230.9 M515.3 308.8L533.8 308.8 M518.5 227.7L507.0 242.5 M477.9 244.1L490.5 254.8 M504.3 280.8L516.6 281.6 M456.3 202.1L446.9 214.5 M247.2 268.8L263.6 281.6 M504.3 280.8L494.9 291.3 M247.2 190.7L247.2 201.6 M247.2 296.5L261.2 308.8 M497.0 191.5L486.0 201.9 M533.6 229.5L527.9 244.1 M395.1 308.8L408.7 308.8 M287.6 242.6L293.3 255.8 M442.0 176.8L453.4 176.8 M526.6 294.6L515.3 308.8 M433.7 292.0L452.6 295.5 M311.0 197.0L312.8 216.2 M376.0 269.5L384.0 281.4 M517.6 205.3L532.7 204.3 M317.9 293.8L332.3 291.9 M321.5 279.3L335.0 281.7 M477.9 244.1L492.4 242.1 M500.9 308.8L515.3 308.8 M494.1 270.5L483.9 278.2 M247.2 190.7L271.2 191.7 M428.0 254.7L430.8 268.9 M430.3 176.8L421.7 190.2 M506.7 270.5L521.1 270.4 M474.7 256.6L461.1 267.2 M490.5 254.8L503.1 255.2 M311.0 197.0L289.9 203.1 M506.7 270.5L504.3 280.8 M438.2 214.3L446.9 214.5 M542.2 176.8L542.2 242.8 M442.0 176.8L438.1 188.0 M423.3 295.5L433.7 292.0 M480.0 218.4L472.7 229.8 M322.8 256.0L313.8 267.9 M443.0 282.2L455.6 279.9 M279.1 254.5L293.3 255.8 M319.3 239.3L300.8 241.1 M480.6 192.6L475.5 202.2 M464.2 242.2L460.2 254.6 M438.1 188.0L452.5 187.8 M534.0 176.8L521.4 188.0 M303.4 282.8L321.5 279.3 M477.9 244.1L474.7 256.6 M303.4 282.8L317.9 293.8 M526.6 294.6L541.6 292.6 M357.4 295.1L366.0 308.8 M352.0 264.6L341.2 266.1 M287.6 242.6L279.1 254.5 M341.2 266.1L348.6 279.3 M352.0 264.6L348.6 279.3 M311.0 197.0L299.6 214.9 M280.9 204.0L287.3 214.3 M424.2 279.3L433.7 292.0 M459.4 229.9L464.2 242.2 M289.9 203.1L299.6 214.9 M279.1 254.5L281.8 269.6 M319.3 239.3L322.8 256.0 M438.1 188.0L439.8 204.2 M537.4 192.0L542.2 176.8 M466.0 294.0L469.9 308.8 M412.0 246.7L431.0 239.3 M412.0 246.7L405.0 273.0 M486.0 201.9L491.7 215.3 M534.3 278.2L541.6 292.6 M421.7 190.2L438.1 188.0 M540.0 218.1L542.2 242.8 M265.9 242.0L261.5 256.1 M515.6 176.8L506.1 189.0 M502.0 200.4L511.0 218.1 M405.0 204.0L402.1 191.3 M291.4 281.5L297.3 294.0 M528.7 213.7L540.0 218.1 M398.0 277.0L384.0 281.4 M430.8 268.9L443.0 282.2 M280.7 229.0L287.6 242.6 M347.8 291.5L335.0 308.8 M521.4 188.0L537.4 192.0 M474.7 256.6L490.5 254.8 M402.1 191.3L414.4 202.2 M312.8 216.2L306.5 230.9 M311.0 197.0L302.7 187.4 M261.5 256.1L268.3 265.6 M357.4 295.1L352.1 308.8 M410.6 279.7L400.9 291.1 M538.4 269.2L541.6 292.6 M421.7 190.2L423.4 203.0 M383.0 262.0L376.0 269.5 M424.2 279.3L443.0 282.2 M280.9 204.0L271.7 217.7 M264.6 176.8L274.0 176.8 M452.6 295.5L457.1 308.8 M424.2 279.3L423.3 295.5 M459.4 229.9L472.7 229.8 M471.2 176.8L480.6 192.6 M514.7 254.8L521.1 270.4 M459.4 229.9L452.2 241.4 M326.0 308.8L335.0 308.8 M274.0 176.8L292.0 176.8 M281.8 269.6L303.4 267.9 M466.0 294.0L457.1 308.8 M516.6 281.6L506.3 294.4 M439.8 204.2L456.3 202.1 M284.1 191.4L289.9 203.1 M521.4 188.0L532.7 204.3 M507.0 242.5L514.7 254.8 M486.0 201.9L480.0 218.4 M534.3 278.2L526.6 294.6 M265.9 242.0L287.6 242.6 M332.3 269.3L321.5 279.3 M423.6 308.8L444.5 308.8 M417.2 270.8L410.6 279.7 M471.2 176.8L488.5 176.8 M332.3 291.9L326.0 308.8 M291.4 281.5L282.9 294.3 M264.6 176.8L271.2 191.7 M430.8 268.9L452.7 266.2 M444.5 308.8L457.1 308.8 M430.8 268.9L424.2 279.3 M247.2 217.9L271.7 217.7 M347.8 291.5L357.4 295.1 M521.1 270.4L534.3 278.2 M507.0 242.5L527.9 244.1 M453.4 176.8L468.4 190.5 M357.4 295.1L373.1 291.5 M310.5 176.8L310.5 186.5 M261.5 256.1L247.2 268.8 M398.0 198.0L390.6 188.0 M421.7 190.2L414.4 202.2 M503.1 255.2L494.1 270.5 M452.6 295.5L444.5 308.8 M514.7 254.8L506.7 270.5 M492.4 242.1L503.1 255.2 M384.0 197.0L398.0 198.0 M528.7 213.7L533.6 229.5 M282.9 294.3L289.9 308.8 M268.3 265.6L279.7 278.7 M271.2 191.7L262.1 204.9 M247.2 217.9L259.6 230.4 M466.0 294.0L479.9 296.7 M431.0 239.3L444.8 253.1 M453.4 176.8L471.2 176.8 M299.6 214.9L288.3 226.2 M284.1 191.4L280.9 204.0 M259.6 230.4L247.2 241.7 M521.4 188.0L517.6 205.3 M507.0 242.5L503.1 255.2 M332.3 291.9L347.8 291.5 M492.4 242.1L507.0 242.5 M264.6 176.8L247.2 190.7 M455.6 279.9L466.0 294.0 M271.2 191.7L284.1 191.4 M511.0 218.1L518.5 227.7 M431.0 239.3L452.2 241.4 M490.2 229.9L492.4 242.1 M521.1 270.4L538.4 269.2" stroke="#353d84" stroke-opacity="0.85" stroke-width="0.75" fill="none"/>
<polygon points="310.5,176.8 329.5,176.8 316,181.5" fill="#2a3c8c" stroke="#2a3c8c" stroke-width="0.5" stroke-linejoin="round"/>
<polygon points="310.5,176.8 316,181.5 310.5,186.5" fill="#2c4090" stroke="#2c4090" stroke-width="0.5" stroke-linejoin="round"/>
<polygon points="329.5,176.8 331,187.5 316,181.5" fill="#3a64b4" stroke="#3a64b4" stroke-width="0.5" stroke-linejoin="round"/>
<polygon points="316,181.5 331,187.5 319.3,186.6" fill="#3a66b6" stroke="#3a66b6" stroke-width="0.5" stroke-linejoin="round"/>
<polygon points="310.5,186.5 316,181.5 319.3,186.6" fill="#2e4494" stroke="#2e4494" stroke-width="0.5" stroke-linejoin="round"/>
<polygon points="329.5,176.8 341,176.8 331,187.5" fill="#262c70" stroke="#262c70" stroke-width="0.5" stroke-linejoin="round"/>
<polygon points="341,176.8 339.6,198 331,187.5" fill="#262c70" stroke="#262c70" stroke-width="0.5" stroke-linejoin="round"/>
<polygon points="341,176.8 355.5,199.3 339.6,198" fill="#272d72" stroke="#272d72" stroke-width="0.5" stroke-linejoin="round"/>
<polygon points="341,176.8 364,176.8 361.7,188.2" fill="#6cc4a8" stroke="#6cc4a8" stroke-width="0.5" stroke-linejoin="round"/>
<polygon points="341,176.8 361.7,188.2 355.5,199.3" fill="#70c4a4" stroke="#70c4a4" stroke-width="0.5" stroke-linejoin="round"/>
<polygon points="364,176.8 372,176.8 370.6,195.6" fill="#50bce4" stroke="#50bce4" stroke-width="0.5" stroke-linejoin="round"/>
<polygon points="364,176.8 370.6,195.6 361.7,188.2" fill="#6cc4a8" stroke="#6cc4a8" stroke-width="0.5" stroke-linejoin="round"/>
<polygon points="372,176.8 373,189 370.6,195.6" fill="#50bce4" stroke="#50bce4" stroke-width="0.5" stroke-linejoin="round"/>
<polygon points="372,176.8 385,176.8 373,189" fill="#2a3482" stroke="#2a3482" stroke-width="0.5" stroke-linejoin="round"/>
<polygon points="373,189 385,176.8 384,197" fill="#2c3a8e" stroke="#2c3a8e" stroke-width="0.5" stroke-linejoin="round"/>
<polygon points="310.5,186.5 319.3,186.6 319.3,197" fill="#50b8e0" stroke="#50b8e0" stroke-width="0.5" stroke-linejoin="round"/>
<polygon points="310.5,186.5 319.3,197 311,197" fill="#4cb8e2" stroke="#4cb8e2" stroke-width="0.5" stroke-linejoin="round"/>
<polygon points="319.3,186.6 331,187.5 331,197.5" fill="#b8d840" stroke="#b8d840" stroke-width="0.5" stroke-linejoin="round"/>
<polygon points="319.3,186.6 331,197.5 319.3,197" fill="#b4d640" stroke="#b4d640" stroke-width="0.5" stroke-linejoin="round"/>
<polygon points="331,187.5 339.6,198 331,197.5" fill="#50b8e0" stroke="#50b8e0" stroke-width="0.5" stroke-linejoin="round"/>
<polygon points="311,197 319.3,197 319.6,205" fill="#50b8e0" stroke="#50b8e0" stroke-width="0.5" stroke-linejoin="round"/>
<polygon points="319.3,197 331,197.5 319.6,205" fill="#78c8a0" stroke="#78c8a0" stroke-width="0.5" stroke-linejoin="round"/>
<polygon points="331,197.5 330,209 319.6,205" fill="#7cc89c" stroke="#7cc89c" stroke-width="0.5" stroke-linejoin="round"/>
<polygon points="331,197.5 339.6,198 342.5,208.5" fill="#78c8a0" stroke="#78c8a0" stroke-width="0.5" stroke-linejoin="round"/>
<polygon points="331,197.5 342.5,208.5 330,209" fill="#80c878" stroke="#80c878" stroke-width="0.5" stroke-linejoin="round"/>
<polygon points="339.6,198 355.5,199.3 342.5,208.5" fill="#e02828" stroke="#e02828" stroke-width="0.5" stroke-linejoin="round"/>
<polygon points="355.5,199.3 361.7,188.2 370.6,195.6" fill="#9a1818" stroke="#9a1818" stroke-width="0.5" stroke-linejoin="round"/>
<polygon points="355.5,199.3 370.6,195.6 371.4,207.4" fill="#e02828" stroke="#e02828" stroke-width="0.5" stroke-linejoin="round"/>
<polygon points="355.5,199.3 371.4,207.4 358,217.5" fill="#6e1010" stroke="#6e1010" stroke-width="0.5" stroke-linejoin="round"/>
<polygon points="342.5,208.5 355.5,199.3 358,217.5" fill="#e02828" stroke="#e02828" stroke-width="0.5" stroke-linejoin="round"/>
<polygon points="342.5,208.5 358,217.5 337.8,223.9" fill="#e22a26" stroke="#e22a26" stroke-width="0.5" stroke-linejoin="round"/>
<polygon points="370.6,195.6 373,189 384,197" fill="#5ec2c8" stroke="#5ec2c8" stroke-width="0.5" stroke-linejoin="round"/>
<polygon points="370.6,195.6 384,197 371.4,207.4" fill="#70c4a8" stroke="#70c4a8" stroke-width="0.5" stroke-linejoin="round"/>
<polygon points="319.6,205 330,209 319.6,219.5" fill="#88c870" stroke="#88c870" stroke-width="0.5" stroke-linejoin="round"/>
<polygon points="330,209 337.8,223.9 319.6,219.5" fill="#84c874" stroke="#84c874" stroke-width="0.5" stroke-linejoin="round"/>
<polygon points="330,209 342.5,208.5 337.8,223.9" fill="#e0e030" stroke="#e0e030" stroke-width="0.5" stroke-linejoin="round"/>
<polygon points="358,217.5 371.4,207.4 374.2,224.6" fill="#f05a22" stroke="#f05a22" stroke-width="0.5" stroke-linejoin="round"/>
<polygon points="371.4,207.4 384,197 386,221" fill="#78c8a0" stroke="#78c8a0" stroke-width="0.5" stroke-linejoin="round"/>
<polygon points="371.4,207.4 386,221 374.2,224.6" fill="#c0d838" stroke="#c0d838" stroke-width="0.5" stroke-linejoin="round"/>
<polygon points="384,197 398,198 396,216" fill="#3a78c8" stroke="#3a78c8" stroke-width="0.5" stroke-linejoin="round"/>
<polygon points="384,197 396,216 386,221" fill="#50b8e0" stroke="#50b8e0" stroke-width="0.5" stroke-linejoin="round"/>
<polygon points="398,198 405,204 396,216" fill="#40b8e8" stroke="#40b8e8" stroke-width="0.5" stroke-linejoin="round"/>
<polygon points="405,204 396,216 412,228" fill="#c8dc38" stroke="#c8dc38" stroke-width="0.5" stroke-linejoin="round"/>
<polygon points="405,204 430,209.5 412,228" fill="#3a80cc" stroke="#3a80cc" stroke-width="0.5" stroke-linejoin="round"/>
<polygon points="319.6,219.5 337.8,223.9 319.6,230" fill="#40b8e8" stroke="#40b8e8" stroke-width="0.5" stroke-linejoin="round"/>
<polygon points="337.8,223.9 337.8,231 319.6,230" fill="#44bae8" stroke="#44bae8" stroke-width="0.5" stroke-linejoin="round"/>
<polygon points="337.8,223.9 358,217.5 358,237.5" fill="#f49a22" stroke="#f49a22" stroke-width="0.5" stroke-linejoin="round"/>
<polygon points="358,217.5 374.2,224.6 358,237.5" fill="#f6a224" stroke="#f6a224" stroke-width="0.5" stroke-linejoin="round"/>
<polygon points="337.8,223.9 358,237.5 337.8,231" fill="#80c878" stroke="#80c878" stroke-width="0.5" stroke-linejoin="round"/>
<polygon points="374.2,224.6 377,245 358,237.5" fill="#80c878" stroke="#80c878" stroke-width="0.5" stroke-linejoin="round"/>
<polygon points="374.2,224.6 386,221 396,238" fill="#c0d838" stroke="#c0d838" stroke-width="0.5" stroke-linejoin="round"/>
<polygon points="374.2,224.6 396,238 377,245" fill="#88cc70" stroke="#88cc70" stroke-width="0.5" stroke-linejoin="round"/>
<polygon points="386,221 396,216 396,238" fill="#c8dc38" stroke="#c8dc38" stroke-width="0.5" stroke-linejoin="round"/>
<polygon points="396,216 412,228 396,238" fill="#b4d444" stroke="#b4d444" stroke-width="0.5" stroke-linejoin="round"/>
<polygon points="412,228 430,209.5 431,239.3" fill="#3a80cc" stroke="#3a80cc" stroke-width="0.5" stroke-linejoin="round"/>
<polygon points="412,228 431,239.3 412,246.7" fill="#3a78c8" stroke="#3a78c8" stroke-width="0.5" stroke-linejoin="round"/>
<polygon points="412,228 412,246.7 396,238" fill="#50c0d0" stroke="#50c0d0" stroke-width="0.5" stroke-linejoin="round"/>
<polygon points="319.6,230 337.8,231 319.3,239.3" fill="#3a7cc8" stroke="#3a7cc8" stroke-width="0.5" stroke-linejoin="round"/>
<polygon points="337.8,231 337.1,248.2 319.3,239.3" fill="#3a76c4" stroke="#3a76c4" stroke-width="0.5" stroke-linejoin="round"/>
<polygon points="337.8,231 358,237.5 348,245" fill="#80c878" stroke="#80c878" stroke-width="0.5" stroke-linejoin="round"/>
<polygon points="337.8,231 348,245 337.1,248.2" fill="#3a78c4" stroke="#3a78c4" stroke-width="0.5" stroke-linejoin="round"/>
<polygon points="337.1,248.2 348,245 352,264.6" fill="#3a78c4" stroke="#3a78c4" stroke-width="0.5" stroke-linejoin="round"/>
<polygon points="348,245 359,264.6 352,264.6" fill="#40c0f0" stroke="#40c0f0" stroke-width="0.5" stroke-linejoin="round"/>
<polygon points="348,245 358,237.5 372,252" fill="#40b8ec" stroke="#40b8ec" stroke-width="0.5" stroke-linejoin="round"/>
<polygon points="358,237.5 377,245 372,252" fill="#44bcea" stroke="#44bcea" stroke-width="0.5" stroke-linejoin="round"/>
<polygon points="348,245 372,252 359,264.6" fill="#40b8ec" stroke="#40b8ec" stroke-width="0.5" stroke-linejoin="round"/>
<polygon points="372,252 383,262 359,264.6" fill="#2c3890" stroke="#2c3890" stroke-width="0.5" stroke-linejoin="round"/>
<polygon points="377,245 394.6,248 372,252" fill="#40b8ec" stroke="#40b8ec" stroke-width="0.5" stroke-linejoin="round"/>
<polygon points="394.6,248 383,262 372,252" fill="#3cb4e8" stroke="#3cb4e8" stroke-width="0.5" stroke-linejoin="round"/>
<polygon points="377,245 396,238 394.6,248" fill="#6cc4b0" stroke="#6cc4b0" stroke-width="0.5" stroke-linejoin="round"/>
<polygon points="396,238 412,246.7 394.6,248" fill="#50c0d0" stroke="#50c0d0" stroke-width="0.5" stroke-linejoin="round"/>
<polygon points="394.6,248 412,246.7 405,273" fill="#40b8ec" stroke="#40b8ec" stroke-width="0.5" stroke-linejoin="round"/>
<polygon points="394.6,248 405,273 390,266" fill="#3cb6ea" stroke="#3cb6ea" stroke-width="0.5" stroke-linejoin="round"/>
<polygon points="390,266 405,273 398,277" fill="#40b8ec" stroke="#40b8ec" stroke-width="0.5" stroke-linejoin="round"/>
<polygon points="383,262 394.6,248 390,266" fill="#40b8ec" stroke="#40b8ec" stroke-width="0.5" stroke-linejoin="round"/>
<polygon points="431,177 470,177 452,193" fill="#2c3a8c"/>
<polygon points="452,193 470,177 472,196" fill="#2a3686"/>
<polygon points="384,197 398,198 392,188" fill="#2c3c90"/>
<polygon points="398,198 405,204 410,195" fill="#2e4094"/>
<polygon points="405,204 430,209.5 418,199" fill="#2c3a8e"/>
<polygon points="300,176.8 310.5,176.8 305,185" fill="#2c4090"/>
<polygon points="310.5,176.8 310.5,186.5 305,185" fill="#2a3888"/>
<polygon points="414.9,177 421.5,177 418,184.7" fill="#4ab8e6"/>
<polygon points="420.8,187.6 429.7,192 421,197.3" fill="#4cbae6"/>
<polygon points="431,184 450.5,186 440,200" fill="#2c4498"/>
<polygon points="384,177 400,177 392,188" fill="#2c3a8e"/>
<polygon points="405,180 418,188 404,196" fill="#2c3c92"/>
<polygon points="248,177 260,177 254,194" fill="#2c3a90"/>
<polygon points="266,177 279,177 272,188" fill="#30489e"/>
<polygon points="298.5,177 305,177 303,184" fill="#30489e"/>
<polygon points="484,177 493,177 488,187" fill="#30489e"/>
<polygon points="373,189 384,197 392,188" fill="#2c3a8e"/>
<polygon points="440,200 450.5,186 458,200" fill="#2a3a90"/>
<g fill="#e2ddb6" stroke="#444" stroke-width="0.3"><circle cx="362.2" cy="258.8" r="0.8"/><circle cx="369.3" cy="249.4" r="0.8"/><circle cx="360.2" cy="249.4" r="0.8"/><circle cx="365.4" cy="251.7" r="0.8"/><circle cx="366.5" cy="242.8" r="0.8"/><circle cx="371.4" cy="251.5" r="0.8"/><circle cx="366.1" cy="251.3" r="0.8"/><circle cx="359.7" cy="254.3" r="0.8"/><circle cx="366.9" cy="251.0" r="0.8"/><circle cx="361.1" cy="255.4" r="0.8"/><circle cx="356.8" cy="244.4" r="0.8"/><circle cx="364.4" cy="248.6" r="0.8"/><circle cx="350.5" cy="247.9" r="0.8"/><circle cx="359.2" cy="246.0" r="0.8"/><circle cx="379.6" cy="256.3" r="0.8"/><circle cx="396.3" cy="254.4" r="0.8"/><circle cx="384.8" cy="258.7" r="0.8"/><circle cx="395.0" cy="253.9" r="0.8"/><circle cx="393.8" cy="263.3" r="0.8"/><circle cx="388.6" cy="250.3" r="0.8"/><circle cx="392.4" cy="257.7" r="0.8"/><circle cx="397.7" cy="247.0" r="0.8"/><circle cx="385.4" cy="250.1" r="0.8"/><circle cx="377.9" cy="256.9" r="0.8"/><circle cx="393.7" cy="250.8" r="0.8"/><circle cx="399.7" cy="261.8" r="0.8"/><circle cx="394.4" cy="258.8" r="0.8"/><circle cx="396.7" cy="246.7" r="0.8"/><circle cx="394.3" cy="260.2" r="0.8"/><circle cx="377.6" cy="258.4" r="0.8"/><circle cx="388.2" cy="261.5" r="0.8"/><circle cx="386.9" cy="255.9" r="0.8"/><circle cx="392.4" cy="249.9" r="0.8"/><circle cx="394.2" cy="255.3" r="0.8"/><circle cx="393.4" cy="252.3" r="0.8"/><circle cx="397.6" cy="260.2" r="0.8"/><circle cx="388.8" cy="260.4" r="0.8"/><circle cx="398.8" cy="268.5" r="0.8"/><circle cx="379.0" cy="262.2" r="0.8"/><circle cx="393.3" cy="255.3" r="0.8"/><circle cx="412.9" cy="265.1" r="0.8"/><circle cx="409.9" cy="259.5" r="0.8"/><circle cx="440.6" cy="242.2" r="0.8"/><circle cx="421.4" cy="244.5" r="0.8"/><circle cx="427.9" cy="267.1" r="0.8"/><circle cx="449.3" cy="240.8" r="0.8"/><circle cx="418.1" cy="260.6" r="0.8"/><circle cx="444.0" cy="258.4" r="0.8"/><circle cx="416.0" cy="257.4" r="0.8"/><circle cx="424.8" cy="253.4" r="0.8"/><circle cx="416.2" cy="258.1" r="0.8"/><circle cx="428.7" cy="254.3" r="0.8"/><circle cx="422.3" cy="244.7" r="0.8"/><circle cx="419.2" cy="264.7" r="0.8"/><circle cx="422.7" cy="243.5" r="0.8"/><circle cx="441.0" cy="259.2" r="0.8"/><circle cx="450.3" cy="255.5" r="0.8"/><circle cx="419.5" cy="243.4" r="0.8"/><circle cx="440.9" cy="275.6" r="0.8"/><circle cx="415.1" cy="249.8" r="0.8"/><circle cx="432.2" cy="248.4" r="0.8"/><circle cx="421.8" cy="252.2" r="0.8"/><circle cx="427.3" cy="263.8" r="0.8"/><circle cx="425.3" cy="262.4" r="0.8"/><circle cx="420.0" cy="257.6" r="0.8"/><circle cx="399.3" cy="243.4" r="0.8"/><circle cx="434.6" cy="250.3" r="0.8"/><circle cx="432.0" cy="259.3" r="0.8"/><circle cx="440.9" cy="261.5" r="0.8"/><circle cx="437.2" cy="254.1" r="0.8"/><circle cx="416.6" cy="249.1" r="0.8"/><circle cx="419.1" cy="246.0" r="0.8"/><circle cx="418.4" cy="254.3" r="0.8"/><circle cx="428.0" cy="252.3" r="0.8"/><circle cx="401.9" cy="254.4" r="0.8"/><circle cx="427.7" cy="263.7" r="0.8"/><circle cx="431.9" cy="249.9" r="0.8"/><circle cx="416.3" cy="271.1" r="0.8"/><circle cx="434.1" cy="269.7" r="0.8"/><circle cx="450.6" cy="248.5" r="0.8"/><circle cx="429.6" cy="258.7" r="0.8"/><circle cx="431.7" cy="259.3" r="0.8"/><circle cx="427.4" cy="256.4" r="0.8"/><circle cx="407.0" cy="253.7" r="0.8"/><circle cx="416.0" cy="256.0" r="0.8"/><circle cx="419.4" cy="259.9" r="0.8"/><circle cx="434.8" cy="257.5" r="0.8"/><circle cx="428.8" cy="255.7" r="0.8"/><circle cx="419.6" cy="253.7" r="0.8"/><circle cx="419.1" cy="258.1" r="0.8"/><circle cx="425.2" cy="259.7" r="0.8"/><circle cx="409.1" cy="262.1" r="0.8"/><circle cx="415.8" cy="249.1" r="0.8"/><circle cx="422.6" cy="250.5" r="0.8"/><circle cx="428.5" cy="250.4" r="0.8"/><circle cx="412.2" cy="248.2" r="0.8"/><circle cx="440.7" cy="255.4" r="0.8"/><circle cx="411.0" cy="255.1" r="0.8"/><circle cx="406.3" cy="269.3" r="0.8"/><circle cx="406.7" cy="258.8" r="0.8"/><circle cx="431.5" cy="243.4" r="0.8"/><circle cx="428.6" cy="263.0" r="0.8"/><circle cx="430.6" cy="257.1" r="0.8"/><circle cx="436.4" cy="256.3" r="0.8"/><circle cx="429.0" cy="254.0" r="0.8"/><circle cx="432.6" cy="247.5" r="0.8"/><circle cx="434.5" cy="251.0" r="0.8"/><circle cx="411.9" cy="257.9" r="0.8"/><circle cx="445.3" cy="262.7" r="0.8"/><circle cx="418.8" cy="260.6" r="0.8"/><circle cx="419.5" cy="254.0" r="0.8"/><circle cx="427.3" cy="246.8" r="0.8"/><circle cx="416.6" cy="243.2" r="0.8"/><circle cx="406.8" cy="247.5" r="0.8"/><circle cx="422.4" cy="282.3" r="0.8"/><circle cx="414.8" cy="279.5" r="0.8"/><circle cx="412.6" cy="264.4" r="0.8"/><circle cx="416.3" cy="276.2" r="0.8"/><circle cx="411.1" cy="275.5" r="0.8"/><circle cx="420.2" cy="269.7" r="0.8"/><circle cx="401.7" cy="272.9" r="0.8"/><circle cx="413.1" cy="272.2" r="0.8"/><circle cx="423.9" cy="282.6" r="0.8"/><circle cx="411.3" cy="277.5" r="0.8"/><circle cx="423.5" cy="277.6" r="0.8"/><circle cx="424.4" cy="272.1" r="0.8"/><circle cx="455.7" cy="278.2" r="0.8"/><circle cx="456.0" cy="257.0" r="0.8"/><circle cx="455.0" cy="272.1" r="0.8"/><circle cx="453.8" cy="257.5" r="0.8"/><circle cx="459.7" cy="252.0" r="0.8"/><circle cx="454.5" cy="261.9" r="0.8"/><circle cx="446.0" cy="271.8" r="0.8"/><circle cx="453.7" cy="252.7" r="0.8"/><circle cx="455.0" cy="258.5" r="0.8"/><circle cx="392.5" cy="240.9" r="0.8"/><circle cx="403.3" cy="244.9" r="0.8"/><circle cx="402.8" cy="243.1" r="0.8"/><circle cx="404.3" cy="242.4" r="0.8"/><circle cx="407.9" cy="243.4" r="0.8"/><circle cx="403.5" cy="244.6" r="0.8"/><circle cx="396.7" cy="240.9" r="0.8"/><circle cx="409.6" cy="244.0" r="0.8"/><circle cx="435.7" cy="247.4" r="0.8"/><circle cx="434.1" cy="247.1" r="0.8"/><circle cx="432.7" cy="247.1" r="0.8"/><circle cx="425.4" cy="251.3" r="0.8"/><circle cx="433.9" cy="239.7" r="0.8"/><circle cx="436.2" cy="244.5" r="0.8"/><circle cx="439.2" cy="241.4" r="0.8"/><circle cx="441.2" cy="260.5" r="0.8"/><circle cx="427.8" cy="247.4" r="0.8"/><circle cx="435.5" cy="246.8" r="0.8"/><circle cx="476.5" cy="256.2" r="0.8"/><circle cx="482.1" cy="261.8" r="0.8"/><circle cx="485.1" cy="258.5" r="0.8"/><circle cx="481.4" cy="276.6" r="0.8"/><circle cx="479.1" cy="257.5" r="0.8"/><circle cx="480.9" cy="261.8" r="0.8"/><circle cx="483.1" cy="262.6" r="0.8"/></g></g>
<polygon points="427.00,271.70 429.00,275.95 433.66,276.54 430.23,279.75 431.11,284.36 427.00,282.10 422.89,284.36 423.77,279.75 420.34,276.54 425.00,275.95" fill="#f8f020" stroke="#222" stroke-width="0.7"/>
<ellipse cx="402.2" cy="190" rx="29.2" ry="16.2" fill="none" stroke="#d63a3a" stroke-width="1.3"/>
<rect x="247.2" y="266.6" width="115" height="42.3" fill="#fff" stroke="#111" stroke-width="1.2"/>
<rect x="255.4" y="282.4" width="102.3" height="8.9" fill="url(#jet)" stroke="#222" stroke-width="0.5"/>
<line x1="264.7" y1="282.4" x2="264.7" y2="283.59999999999997" stroke="#222" stroke-width="0.5"/>
<line x1="264.7" y1="290.09999999999997" x2="264.7" y2="291.29999999999995" stroke="#222" stroke-width="0.5"/>
<line x1="274.0" y1="282.4" x2="274.0" y2="283.59999999999997" stroke="#222" stroke-width="0.5"/>
<line x1="274.0" y1="290.09999999999997" x2="274.0" y2="291.29999999999995" stroke="#222" stroke-width="0.5"/>
<line x1="283.3" y1="282.4" x2="283.3" y2="283.59999999999997" stroke="#222" stroke-width="0.5"/>
<line x1="283.3" y1="290.09999999999997" x2="283.3" y2="291.29999999999995" stroke="#222" stroke-width="0.5"/>
<line x1="292.6" y1="282.4" x2="292.6" y2="283.59999999999997" stroke="#222" stroke-width="0.5"/>
<line x1="292.6" y1="290.09999999999997" x2="292.6" y2="291.29999999999995" stroke="#222" stroke-width="0.5"/>
<line x1="301.9" y1="282.4" x2="301.9" y2="283.59999999999997" stroke="#222" stroke-width="0.5"/>
<line x1="301.9" y1="290.09999999999997" x2="301.9" y2="291.29999999999995" stroke="#222" stroke-width="0.5"/>
<line x1="311.2" y1="282.4" x2="311.2" y2="283.59999999999997" stroke="#222" stroke-width="0.5"/>
<line x1="311.2" y1="290.09999999999997" x2="311.2" y2="291.29999999999995" stroke="#222" stroke-width="0.5"/>
<line x1="320.5" y1="282.4" x2="320.5" y2="283.59999999999997" stroke="#222" stroke-width="0.5"/>
<line x1="320.5" y1="290.09999999999997" x2="320.5" y2="291.29999999999995" stroke="#222" stroke-width="0.5"/>
<line x1="329.8" y1="282.4" x2="329.8" y2="283.59999999999997" stroke="#222" stroke-width="0.5"/>
<line x1="329.8" y1="290.09999999999997" x2="329.8" y2="291.29999999999995" stroke="#222" stroke-width="0.5"/>
<line x1="339.1" y1="282.4" x2="339.1" y2="283.59999999999997" stroke="#222" stroke-width="0.5"/>
<line x1="339.1" y1="290.09999999999997" x2="339.1" y2="291.29999999999995" stroke="#222" stroke-width="0.5"/>
<line x1="348.4" y1="282.4" x2="348.4" y2="283.59999999999997" stroke="#222" stroke-width="0.5"/>
<line x1="348.4" y1="290.09999999999997" x2="348.4" y2="291.29999999999995" stroke="#222" stroke-width="0.5"/>
<text x="308.5" y="280.0" font-size="13.6" text-anchor="middle" font-weight="normal" >Slip (m)</text>
<text x="256" y="305.2" font-size="13" text-anchor="middle" font-weight="normal" >0</text>
<text x="304.8" y="305.2" font-size="13" text-anchor="middle" font-weight="normal" >0.6</text>
<text x="352.9" y="305.2" font-size="13" text-anchor="middle" font-weight="normal" >1.2</text>
<rect x="247.2" y="176.8" width="295" height="132" fill="none" stroke="#111" stroke-width="1.2"/>
<text x="225.6" y="181" font-size="13.5" text-anchor="start" font-weight="normal" >d</text>
<text x="241.6" y="183.8" font-size="11" text-anchor="end" font-weight="normal" >0</text>
<text x="241.6" y="225.2" font-size="11" text-anchor="end" font-weight="normal" >5</text>
<text x="241.6" y="271.1" font-size="11" text-anchor="end" font-weight="normal" >10</text>
<text x="241.6" y="313.6" font-size="11" text-anchor="end" font-weight="normal" >15</text>
<text x="247" y="324.2" font-size="11" text-anchor="middle" font-weight="normal" >-16</text>
<text x="540" y="320.9" font-size="11" text-anchor="middle" font-weight="normal" >16</text>
<text x="391.4" y="330.2" font-size="12" text-anchor="middle" font-weight="normal" >Along-Strike Length (km)</text>
<text x="0" y="0" font-size="13" text-anchor="middle" font-weight="normal" transform="translate(228.6,240.5) rotate(-90)">Depth (km)</text>
</svg></body></html>
